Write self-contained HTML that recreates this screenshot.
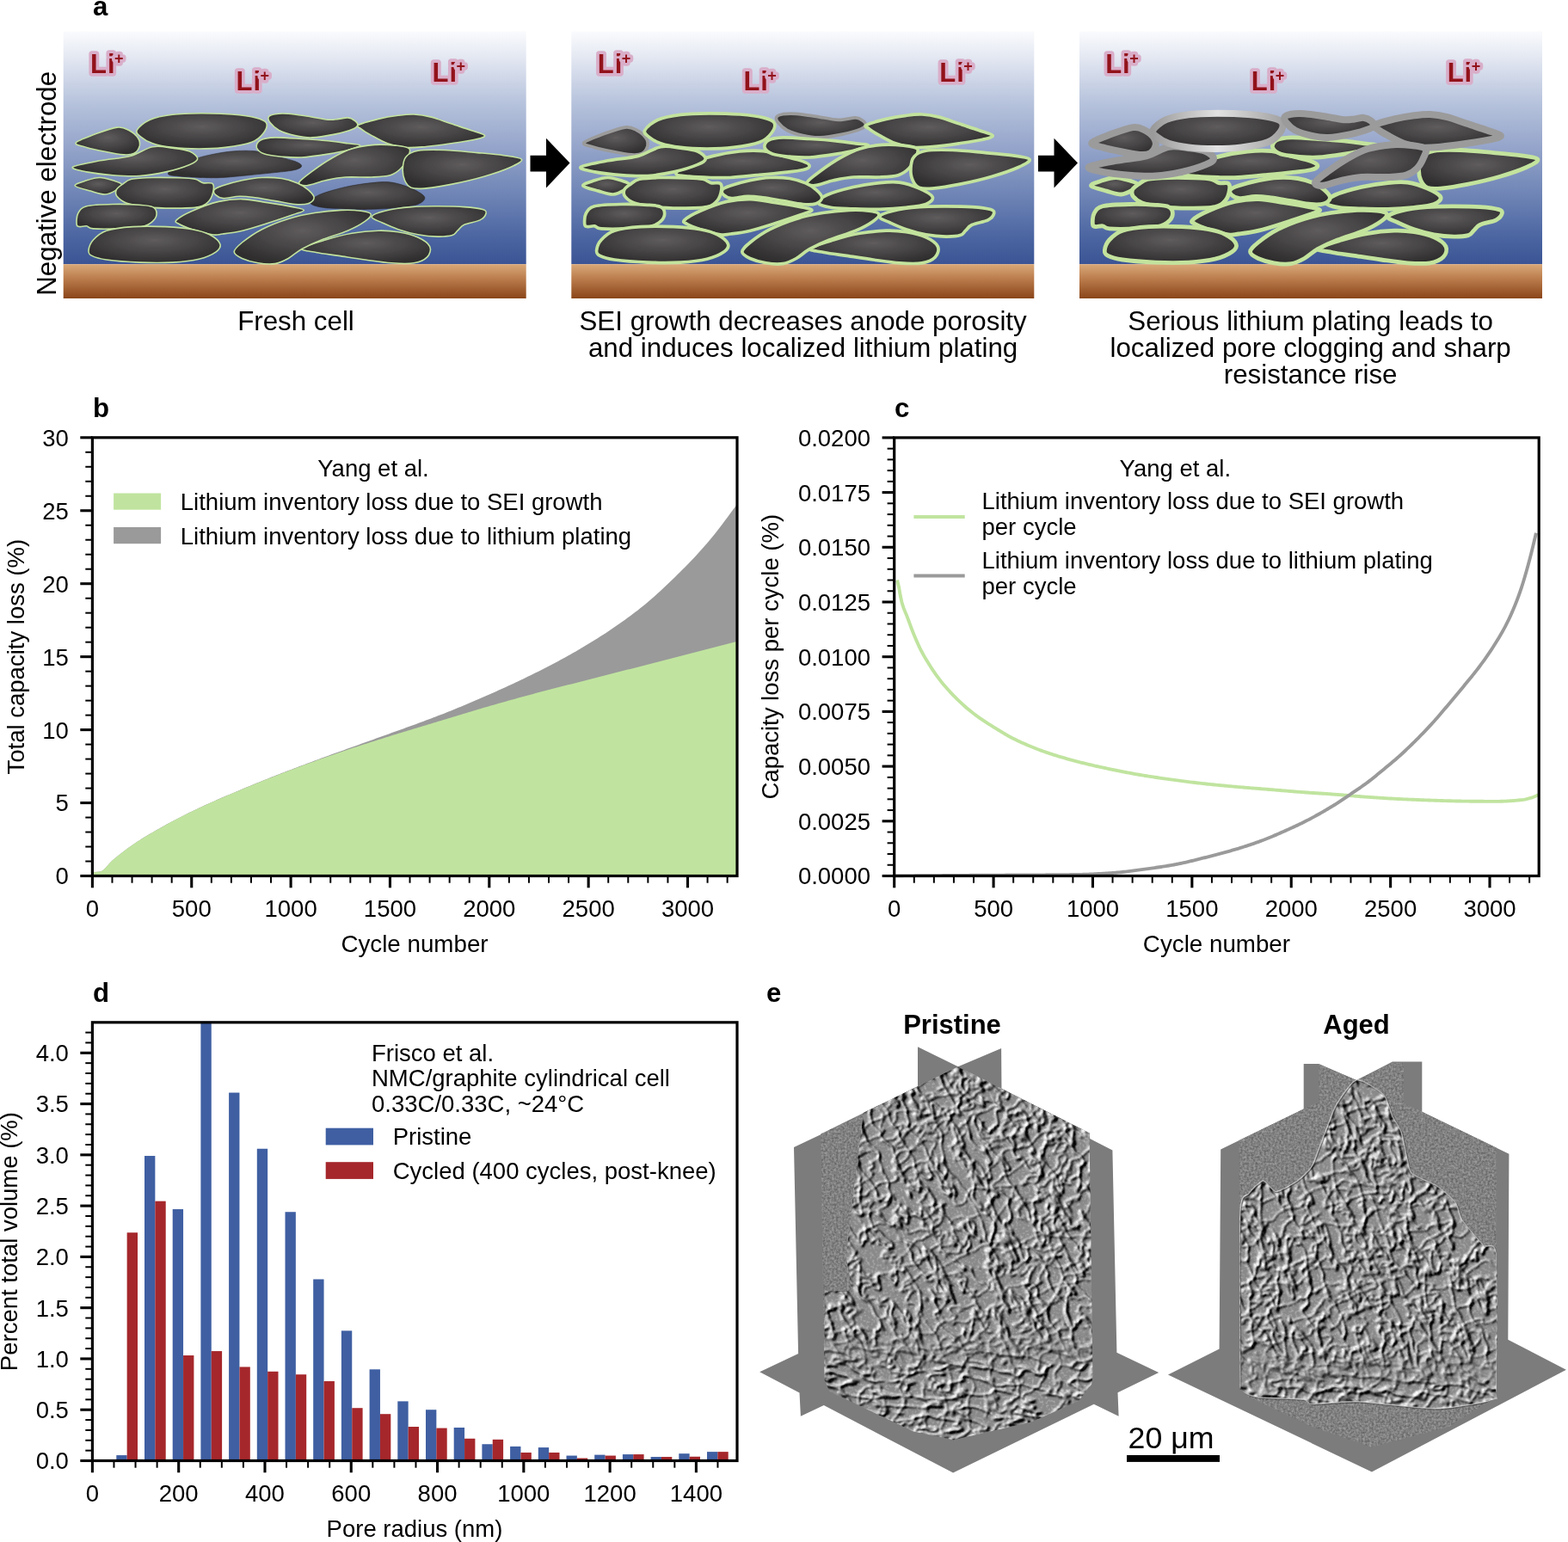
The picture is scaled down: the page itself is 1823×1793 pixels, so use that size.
<!DOCTYPE html>
<html lang="en"><head><meta charset="utf-8"><title>Figure</title>
<style>
html,body{margin:0;padding:0;background:#fff;}
body{width:1823px;height:1793px;overflow:hidden;}
svg{display:block;font-family:'Liberation Sans', sans-serif;}
text{white-space:pre;}
</style></head><body>
<svg width="1823" height="1793" viewBox="0 0 1823 1793">
<defs>
<linearGradient id="gblue" x1="0" y1="0" x2="0" y2="1">
<stop offset="0" stop-color="#fafbfd"/>
<stop offset="0.1" stop-color="#e6eaf3"/>
<stop offset="0.3" stop-color="#b8c4dd"/>
<stop offset="0.5" stop-color="#94a4ca"/>
<stop offset="0.7" stop-color="#6f85b6"/>
<stop offset="0.88" stop-color="#4c66a2"/>
<stop offset="1" stop-color="#3b5494"/>
</linearGradient>
<linearGradient id="gcu" x1="0" y1="0" x2="0" y2="1">
<stop offset="0" stop-color="#d9a878"/>
<stop offset="0.45" stop-color="#b97a4a"/>
<stop offset="1" stop-color="#8a4518"/>
</linearGradient>
<radialGradient id="gpart" cx="0.5" cy="0.38" r="0.62">
<stop offset="0" stop-color="#5f5c5d"/>
<stop offset="0.6" stop-color="#434142"/>
<stop offset="1" stop-color="#2f2d2e"/>
</radialGradient>
<linearGradient id="gsilver" x1="0" y1="0" x2="1" y2="0">
<stop offset="0" stop-color="#9a9a9a"/>
<stop offset="0.5" stop-color="#e2e2e2"/>
<stop offset="1" stop-color="#a2a2a2"/>
</linearGradient>
<filter id="soft" x="-5%" y="-5%" width="110%" height="110%"><feGaussianBlur stdDeviation="0.45"/></filter>
<filter id="glow" x="-30%" y="-30%" width="160%" height="160%"><feGaussianBlur stdDeviation="0.7"/></filter>
<path id="p1" d="M88.1,166.1C89.4,163.6 100.4,159.8 108.4,156.8C116.4,153.9 129.1,149.0 136.0,148.1C143.0,147.2 145.8,149.4 149.9,151.5C154.0,153.6 158.6,157.6 160.6,160.7C162.7,163.8 162.9,167.0 162.2,169.9C161.4,172.8 159.1,176.7 156.0,178.3C152.9,180.0 149.6,180.3 143.7,179.9C137.8,179.5 127.9,177.5 120.7,176.0C113.5,174.6 106.1,173.1 100.7,171.4C95.3,169.8 86.8,168.5 88.1,166.1Z"/>
<path id="p2" d="M159.1,151.5C160.9,148.1 167.5,142.2 174.4,139.2C181.4,136.2 190.6,134.6 200.6,133.3C210.5,132.1 222.8,131.9 234.3,131.8C245.9,131.8 259.2,132.2 269.7,133.0C280.2,133.9 290.7,135.2 297.3,136.9C304.0,138.5 308.1,140.1 309.6,143.0C311.1,146.0 309.3,150.8 306.5,154.5C303.7,158.3 300.1,162.5 292.7,165.3C285.3,168.1 272.2,170.2 262.0,171.4C251.8,172.7 241.5,173.0 231.3,173.0C221.0,173.0 209.5,172.5 200.6,171.4C191.6,170.4 183.7,168.9 177.5,166.8C171.4,164.8 166.8,161.7 163.7,159.1C160.6,156.6 157.3,154.8 159.1,151.5Z"/>
<path id="p3" d="M312.2,136.1C313.1,134.4 316.0,133.4 319.8,132.7C323.7,132.1 328.8,131.8 335.2,132.3C341.6,132.7 350.6,134.2 358.2,135.3C365.9,136.5 375.4,138.7 381.3,139.2C387.2,139.7 389.7,138.8 393.6,138.4C397.4,138.0 401.2,136.6 404.3,136.9C407.4,137.1 410.1,138.5 412.0,140.0C413.9,141.4 416.1,143.7 415.8,145.3C415.6,147.0 414.9,148.1 410.5,149.9C406.0,151.7 396.9,154.4 389.0,156.1C381.0,157.7 370.5,159.7 362.8,159.9C355.2,160.2 349.3,159.0 342.9,157.6C336.5,156.2 329.2,153.9 324.4,151.5C319.7,149.0 316.5,145.6 314.5,143.0C312.4,140.5 311.3,137.8 312.2,136.1Z"/>
<path id="p4" d="M416.8,145.3C420.1,143.4 432.2,140.3 439.8,138.4C447.5,136.6 456.0,135.2 462.9,134.3C469.8,133.4 474.9,132.7 481.3,133.0C487.7,133.3 494.1,134.3 501.3,136.1C508.4,137.9 516.6,141.2 524.3,143.8C532.0,146.4 540.8,149.2 547.4,151.5C553.9,153.8 562.7,155.8 563.5,157.6C564.2,159.4 558.5,160.7 552.0,162.2C545.4,163.8 534.0,165.4 524.3,166.8C514.6,168.2 502.6,169.9 493.6,170.7C484.6,171.4 477.7,172.1 470.6,171.4C463.4,170.8 457.0,169.1 450.6,166.8C444.2,164.5 437.3,160.4 432.2,157.6C427.0,154.8 422.4,152.0 419.9,149.9C417.3,147.9 413.5,147.2 416.8,145.3Z"/>
<path id="p5" d="M84.6,194.2C87.2,192.0 104.9,188.9 116.1,186.8C127.2,184.7 141.2,184.1 151.4,181.4C161.6,178.7 169.3,172.2 177.5,170.7C185.7,169.1 193.4,171.3 200.6,172.2C207.7,173.1 215.7,174.0 220.5,176.0C225.4,178.1 229.7,181.9 229.7,184.5C229.7,187.1 226.7,188.8 220.5,191.4C214.4,194.0 202.6,197.7 192.9,199.9C183.1,202.0 172.4,203.8 162.2,204.5C151.9,205.1 141.7,204.5 131.4,203.7C121.2,202.9 108.5,201.4 100.7,199.9C92.9,198.3 82.0,196.3 84.6,194.2Z"/>
<path id="p6" d="M195.4,202.2C194.9,199.9 200.5,194.9 207.7,191.4C214.9,187.9 228.2,184.0 238.4,181.4C248.7,178.9 259.4,177.0 269.1,176.0C278.9,175.1 288.3,174.8 296.8,175.7C305.2,176.6 312.2,179.4 319.8,181.4C327.5,183.4 337.8,185.6 342.9,187.6C348.0,189.5 350.6,191.3 350.6,192.9C350.6,194.6 348.0,196.3 342.9,197.5C337.8,198.8 328.8,199.6 319.8,200.6C310.9,201.6 299.4,202.7 289.1,203.7C278.9,204.7 267.4,206.0 258.4,206.5C249.4,206.9 243.3,206.7 235.4,206.5C227.4,206.3 217.4,205.9 210.8,205.2C204.1,204.5 195.9,204.5 195.4,202.2Z"/>
<path id="p7" d="M298.3,171.4C297.6,168.7 299.4,164.9 302.9,163.0C306.5,161.1 311.9,160.2 319.8,159.9C327.8,159.7 340.3,160.8 350.6,161.5C360.8,162.1 372.3,162.9 381.3,163.8C390.2,164.7 398.0,165.9 404.3,166.8C410.6,167.7 418.9,167.9 418.9,169.1C418.9,170.4 410.6,172.8 404.3,174.5C398.0,176.2 390.2,177.7 381.3,179.1C372.3,180.5 359.5,182.4 350.6,183.0C341.6,183.5 334.7,182.8 327.5,182.2C320.3,181.5 312.4,180.9 307.5,179.1C302.7,177.3 299.1,174.1 298.3,171.4Z"/>
<path id="p8" d="M347.7,212.1C348.7,209.4 356.6,203.8 363.0,199.1C369.4,194.3 378.4,188.1 386.1,183.7C393.8,179.4 400.9,175.5 409.1,173.0C417.3,170.4 426.8,169.0 435.2,168.4C443.7,167.7 453.0,168.4 459.8,169.1C466.6,169.9 473.6,170.5 475.9,173.0C478.2,175.4 475.3,179.9 473.6,183.7C472.0,187.6 469.3,192.7 465.9,196.0C462.6,199.3 459.3,202.0 453.7,203.7C448.0,205.4 440.9,205.6 432.2,206.0C423.5,206.4 410.4,205.4 401.4,206.0C392.5,206.6 385.8,208.2 378.4,209.8C371.0,211.4 362.0,215.3 356.9,215.7C351.8,216.1 346.7,214.9 347.7,212.1Z"/>
<path id="p9" d="M468.3,196.0C468.5,191.4 469.1,185.6 472.1,182.2C475.0,178.7 478.5,176.6 485.9,175.3C493.3,174.0 505.1,174.1 516.6,174.5C528.2,174.9 543.5,176.6 555.0,177.6C566.5,178.6 577.2,179.4 585.7,180.7C594.3,181.9 605.2,183.0 606.5,185.3C607.8,187.6 600.7,191.1 593.4,194.5C586.1,197.8 574.2,201.9 562.7,205.2C551.2,208.6 535.8,212.1 524.3,214.4C512.8,216.7 501.3,218.4 493.6,219.1C485.9,219.7 482.1,219.8 478.2,218.3C474.4,216.7 472.2,213.5 470.6,209.8C468.9,206.1 468.0,200.6 468.3,196.0Z"/>
<path id="p10" d="M87.2,216.0C86.4,213.9 95.9,211.4 100.7,209.8C105.5,208.2 111.0,206.5 116.1,206.5C121.2,206.5 127.2,208.5 131.4,209.8C135.7,211.2 140.9,212.5 141.4,214.4C141.9,216.4 137.7,219.4 134.5,221.4C131.3,223.3 127.1,225.8 122.2,226.0C117.4,226.1 111.2,223.8 105.3,222.1C99.5,220.5 88.0,218.0 87.2,216.0Z"/>
<path id="p11" d="M142.2,214.4C145.1,212.4 147.1,209.6 152.9,208.3C158.8,207.0 168.3,206.7 177.5,206.5C186.7,206.2 200.0,206.5 208.2,206.8C216.4,207.1 222.1,207.3 226.7,208.3C231.3,209.3 232.6,211.8 235.9,212.6C239.2,213.4 244.6,211.9 246.6,213.2C248.7,214.5 248.7,217.3 248.2,220.6C247.7,223.9 246.4,229.5 243.6,232.9C240.7,236.2 238.4,239.0 231.3,240.6C224.1,242.1 210.8,242.1 200.6,242.1C190.3,242.1 178.8,241.6 169.8,240.6C160.9,239.5 152.4,238.0 146.8,235.9C141.2,233.9 138.0,230.8 136.0,228.3C134.1,225.7 134.3,222.9 135.3,220.6C136.3,218.3 139.2,216.5 142.2,214.4Z"/>
<path id="p12" d="M249.2,220.6C250.5,218.8 253.0,217.8 258.4,216.0C263.8,214.2 273.8,211.4 281.4,209.8C289.1,208.2 296.8,206.8 304.5,206.5C312.2,206.1 320.6,206.5 327.5,207.5C334.4,208.6 340.8,210.7 345.9,212.9C351.1,215.1 355.0,217.8 358.2,220.6C361.4,223.4 365.1,227.1 365.1,229.8C365.1,232.5 361.9,235.4 358.2,236.7C354.5,238.0 349.3,238.0 342.9,237.5C336.5,237.0 327.5,234.9 319.8,233.6C312.2,232.4 303.7,230.7 296.8,229.8C289.9,228.9 284.5,228.1 278.4,228.3C272.2,228.4 264.5,230.8 259.9,230.6C255.3,230.3 252.5,228.4 250.7,226.7C248.9,225.1 247.9,222.4 249.2,220.6Z"/>
<path id="p13" d="M360.7,235.9C360.0,233.5 363.9,229.8 370.7,226.7C377.5,223.7 391.2,219.9 401.4,217.5C411.7,215.2 423.2,213.5 432.2,212.6C441.1,211.7 447.5,211.1 455.2,212.1C462.9,213.2 471.8,216.2 478.2,219.1C484.6,221.9 492.3,226.0 493.6,229.0C494.9,232.1 491.0,235.4 485.9,237.5C480.8,239.5 471.8,240.3 462.9,241.3C453.9,242.3 442.4,243.1 432.2,243.3C421.9,243.6 410.9,243.2 401.4,242.9C392.0,242.5 382.1,242.5 375.3,241.3C368.5,240.2 361.5,238.4 360.7,235.9Z"/>
<path id="p14" d="M89.2,261.3C88.8,258.7 88.8,251.8 90.7,248.2C92.7,244.6 93.9,241.6 100.7,239.8C107.5,238.0 121.2,237.7 131.4,237.5C141.7,237.2 154.5,237.7 162.2,238.3C169.8,238.8 174.2,238.9 177.5,240.6C180.8,242.2 182.1,245.4 182.1,248.2C182.1,251.0 180.3,254.9 177.5,257.4C174.7,260.0 171.6,262.2 165.2,263.6C158.8,265.0 148.6,265.5 139.1,265.9C129.6,266.3 114.8,266.4 108.4,265.9C102.0,265.4 103.3,263.2 100.7,262.8C98.2,262.4 95.0,263.8 93.0,263.6C91.1,263.3 89.6,263.8 89.2,261.3Z"/>
<path id="p15" d="M205.2,255.9C207.7,253.4 215.4,248.7 223.6,245.2C231.8,241.6 244.6,236.7 254.3,234.4C264.0,232.2 272.5,231.4 282.0,231.6C291.4,231.9 301.4,234.2 311.1,235.6C320.9,237.1 333.3,239.1 340.3,240.6C347.4,242.0 353.4,242.9 353.4,244.4C353.4,245.9 347.1,247.3 340.3,249.8C333.5,252.2 322.4,255.9 312.7,259.0C302.9,262.1 290.9,266.0 282.0,268.2C273.0,270.4 264.8,271.3 258.9,272.0C253.0,272.8 252.5,273.7 246.6,272.8C240.7,271.9 230.0,268.7 223.6,266.7C217.2,264.6 211.3,262.3 208.2,260.5C205.2,258.7 202.6,258.5 205.2,255.9Z"/>
<path id="p16" d="M432.2,252.1C432.7,249.8 439.8,247.1 447.5,245.2C455.2,243.2 468.0,241.4 478.2,240.6C488.5,239.7 498.7,239.8 509.0,239.8C519.2,239.8 531.0,239.9 539.7,240.6C548.4,241.2 557.0,242.3 561.2,243.6C565.4,244.9 565.5,246.2 565.0,248.2C564.5,250.3 562.3,253.7 558.1,255.9C553.9,258.1 544.0,259.2 539.7,261.3C535.3,263.3 534.3,266.2 532.0,268.2C529.7,270.2 529.7,272.4 525.8,273.6C522.0,274.7 515.6,275.2 509.0,275.1C502.3,275.0 493.6,274.2 485.9,272.8C478.2,271.4 469.8,269.0 462.9,266.7C456.0,264.4 449.6,261.4 444.4,259.0C439.3,256.6 431.6,254.4 432.2,252.1Z"/>
<path id="p17" d="M103.0,291.2C103.3,288.2 104.9,282.8 108.4,279.0C111.9,275.1 116.1,270.8 123.8,268.2C131.4,265.6 143.0,264.4 154.5,263.6C166.0,262.8 181.4,263.1 192.9,263.6C204.4,264.1 215.1,265.1 223.6,266.7C232.0,268.2 238.2,270.0 243.6,272.8C248.9,275.6 254.6,280.2 255.8,283.6C257.1,286.9 255.3,289.8 251.2,292.8C247.1,295.7 239.7,299.2 231.3,301.2C222.8,303.3 212.1,304.4 200.6,305.1C189.0,305.7 175.0,305.6 162.2,305.1C149.4,304.6 133.0,303.3 123.8,302.0C114.5,300.7 110.3,299.2 106.9,297.4C103.4,295.6 102.8,294.3 103.0,291.2Z"/>
<path id="p18" d="M272.2,292.8C272.2,289.7 276.1,286.4 281.4,282.0C286.8,277.7 295.5,271.3 304.5,266.7C313.4,262.1 325.0,257.6 335.2,254.4C345.4,251.2 355.7,249.1 365.9,247.5C376.2,245.8 387.7,244.8 396.6,244.4C405.6,244.0 413.9,244.4 419.7,245.2C425.4,245.9 430.4,247.0 431.2,249.0C432.0,251.0 428.8,254.2 424.3,257.4C419.8,260.6 412.8,264.6 404.3,268.2C395.9,271.8 382.6,275.4 373.6,279.0C364.6,282.5 357.0,286.1 350.6,289.7C344.2,293.3 340.3,297.6 335.2,300.5C330.1,303.3 325.7,305.7 319.8,306.6C313.9,307.5 306.3,306.9 299.9,305.8C293.5,304.8 286.0,302.6 281.4,300.5C276.8,298.3 272.2,295.8 272.2,292.8Z"/>
<path id="p19" d="M350.8,288.9C352.5,286.5 368.7,281.9 378.4,279.0C388.1,276.0 398.9,273.1 409.1,271.3C419.4,269.5 430.9,268.5 439.8,268.2C448.8,267.9 455.2,268.5 462.9,269.7C470.6,271.0 479.8,273.1 485.9,275.9C492.1,278.7 497.9,282.8 499.7,286.6C501.5,290.5 499.7,295.7 496.7,298.9C493.6,302.1 488.2,304.7 481.3,305.8C474.4,307.0 464.7,306.5 455.2,305.8C445.7,305.2 434.7,303.4 424.5,302.0C414.2,300.6 403.2,298.8 393.8,297.4C384.3,296.0 374.8,295.0 367.6,293.5C360.5,292.1 349.0,291.4 350.8,288.9Z"/>
<filter id="tex" x="0" y="0" width="100%" height="100%" color-interpolation-filters="sRGB"><feTurbulence type="fractalNoise" baseFrequency="0.02 0.055" numOctaves="3" seed="7" result="n"/><feComponentTransfer in="n" result="h1"><feFuncA type="table" tableValues="0 0 0 0 0 0 0 0 0 0 1 0 0 0 0 0 0 0 0 0 0"/></feComponentTransfer><feTurbulence type="fractalNoise" baseFrequency="0.05 0.03" numOctaves="3" seed="31" result="m"/><feComponentTransfer in="m" result="h2"><feFuncA type="table" tableValues="0 0 0 0 0 0 0 0 0 0 1 0 0 0 0 0 0 0 0 0 0"/></feComponentTransfer><feComposite in="h1" in2="h2" operator="arithmetic" k1="0" k2="1" k3="0.6" k4="0" result="h"/><feGaussianBlur in="h" stdDeviation="0.8" result="hb"/><feDiffuseLighting in="hb" surfaceScale="2" diffuseConstant="1" lighting-color="#fff" result="l"><feDistantLight azimuth="150" elevation="32.5"/></feDiffuseLighting><feTurbulence type="fractalNoise" baseFrequency="0.35" numOctaves="2" seed="11" result="g"/><feColorMatrix in="g" type="matrix" values="0.5 0 0 0 -0.25  0.5 0 0 0 -0.25  0.5 0 0 0 -0.25  0 0 0 0 1" result="g2"/><feComposite in="l" in2="g2" operator="arithmetic" k1="0" k2="1" k3="1" k4="0" result="c"/><feGaussianBlur in="c" stdDeviation="0.45"/></filter>
<filter id="tex2" x="0" y="0" width="100%" height="100%" color-interpolation-filters="sRGB"><feTurbulence type="fractalNoise" baseFrequency="0.018 0.06" numOctaves="3" seed="23" result="n"/><feComponentTransfer in="n" result="h1"><feFuncA type="table" tableValues="0 0 0 0 0 0 0 0 0 0 1 0 0 0 0 0 0 0 0 0 0"/></feComponentTransfer><feTurbulence type="fractalNoise" baseFrequency="0.04 0.03" numOctaves="3" seed="41" result="m"/><feComponentTransfer in="m" result="h2"><feFuncA type="table" tableValues="0 0 0 0 0 0 0 0 0 0 1 0 0 0 0 0 0 0 0 0 0"/></feComponentTransfer><feComposite in="h1" in2="h2" operator="arithmetic" k1="0" k2="1" k3="0.6" k4="0" result="h"/><feGaussianBlur in="h" stdDeviation="0.8" result="hb"/><feDiffuseLighting in="hb" surfaceScale="2" diffuseConstant="1" lighting-color="#fff" result="l"><feDistantLight azimuth="215" elevation="32.5"/></feDiffuseLighting><feTurbulence type="fractalNoise" baseFrequency="0.35" numOctaves="2" seed="5" result="g"/><feColorMatrix in="g" type="matrix" values="0.5 0 0 0 -0.25  0.5 0 0 0 -0.25  0.5 0 0 0 -0.25  0 0 0 0 1" result="g2"/><feComposite in="l" in2="g2" operator="arithmetic" k1="0" k2="1" k3="1" k4="0" result="c"/><feGaussianBlur in="c" stdDeviation="0.45"/></filter>
<filter id="grain" x="0" y="0" width="100%" height="100%" color-interpolation-filters="sRGB"><feTurbulence type="fractalNoise" baseFrequency="0.4" numOctaves="2" seed="17" result="n"/><feColorMatrix in="n" type="matrix" values="0.36 0 0 0 0.325  0.36 0 0 0 0.325  0.36 0 0 0 0.325  0 0 0 0 1" result="c"/><feGaussianBlur in="c" stdDeviation="0.4"/></filter>
<clipPath id="cip"><polygon points="954.30,1318.50 1113.90,1240.30 1266.60,1317.40 1270.40,1600.00 1269.10,1609.70 1254.00,1628.90 1199.10,1653.60 1108.60,1674.20 1062.00,1664.60 964.60,1617.90 958.30,1604.20"/></clipPath>
<clipPath id="csp"><polygon points="1003.90,1294.00 1113.90,1240.30 1266.60,1317.40 1270.40,1600.00 1269.10,1609.70 1254.00,1628.90 1199.10,1653.60 1108.60,1674.20 1062.00,1664.60 964.60,1617.90 958.30,1604.20 958.70,1501.40 990.50,1501.40 983.80,1461.30 993.80,1374.30"/></clipPath>
<linearGradient id="mgup" gradientUnits="userSpaceOnUse" x1="0" y1="1548.1" x2="0" y2="1592.1"><stop offset="0" stop-color="#fff"/><stop offset="1" stop-color="#000"/></linearGradient>
<mask id="mup" maskUnits="userSpaceOnUse" x="958.3" y="1240.3" width="312.1" height="433.9"><rect x="958.3" y="1240.3" width="312.1" height="433.9" fill="url(#mgup)"/></mask>
<clipPath id="cia"><polygon points="1440.60,1326.00 1533.40,1281.00 1533.40,1238.00 1577.20,1255.90 1618.90,1236.00 1632.00,1236.00 1632.00,1282.50 1739.80,1334.60 1739.80,1618.00 1735.00,1627.00 1684.50,1659.00 1594.40,1682.80 1525.50,1659.00 1451.30,1624.50 1441.50,1613.90"/></clipPath>
<clipPath id="csa"><path d="M1577.2,1255.9C1583.5,1254.7 1603.6,1268.1 1608.5,1273.0C1613.4,1277.9 1616.5,1292.9 1618.9,1298.0C1621.3,1303.1 1627.4,1311.1 1629.3,1316.7C1631.2,1322.3 1634.1,1340.3 1635.6,1345.9C1637.1,1351.5 1637.7,1360.8 1641.8,1364.7C1645.9,1368.6 1665.2,1375.4 1671.0,1379.3C1676.8,1383.2 1688.5,1393.4 1691.9,1398.0C1695.3,1402.6 1696.4,1413.1 1700.2,1418.9C1704.0,1424.7 1720.0,1443.1 1724.6,1447.9C1729.2,1452.7 1737.9,1440.5 1739.7,1460.0C1741.5,1479.5 1740.0,1595.5 1739.7,1615.0C1739.4,1634.5 1745.5,1624.5 1737.5,1627.2C1729.5,1629.9 1689.8,1637.5 1671.2,1637.8C1652.7,1638.1 1595.5,1630.4 1578.5,1629.8C1561.5,1629.2 1532.9,1632.8 1525.5,1632.5C1518.1,1632.2 1522.3,1628.1 1514.9,1627.2C1507.5,1626.3 1470.3,1625.7 1461.9,1624.5C1453.5,1623.3 1445.6,1619.5 1443.3,1616.6C1441.0,1613.7 1442.0,1624.1 1441.8,1600.0C1441.6,1575.9 1440.6,1434.8 1441.8,1410.0C1443.0,1385.2 1448.9,1391.9 1452.1,1387.6C1455.2,1383.3 1465.1,1373.2 1468.8,1373.0C1472.5,1372.8 1478.8,1385.5 1483.4,1385.5C1488.0,1385.5 1503.5,1376.4 1508.4,1373.0C1513.3,1369.6 1522.2,1360.7 1525.1,1356.3C1528.0,1351.9 1531.2,1341.1 1533.4,1335.5C1535.6,1329.9 1541.4,1314.5 1543.8,1308.4C1546.2,1302.3 1550.4,1289.5 1554.3,1283.4C1558.2,1277.3 1570.9,1257.1 1577.2,1255.9Z"/></clipPath>
<linearGradient id="mgua" gradientUnits="userSpaceOnUse" x1="0" y1="1570.0" x2="0" y2="1614.0"><stop offset="0" stop-color="#fff"/><stop offset="1" stop-color="#000"/></linearGradient>
<mask id="mua" maskUnits="userSpaceOnUse" x="1441.8" y="1255.9" width="297.9" height="381.9"><rect x="1441.8" y="1255.9" width="297.9" height="381.9" fill="url(#mgua)"/></mask>
</defs>
<g>
<rect x="73.7" y="36.5" width="538.0" height="270.7" fill="url(#gblue)"/>
<rect x="73.7" y="307.2" width="538.0" height="39.8" fill="url(#gcu)"/>
<g transform="translate(0.0 0)" filter="url(#soft)" stroke-linejoin="round">
<use href="#p6" fill="url(#gpart)" stroke="#2a2829" stroke-width="0.6"/>
<use href="#p13" fill="url(#gpart)" stroke="#2a2829" stroke-width="0.6"/>
<use href="#p1" fill="url(#gpart)" stroke="#c3e39d" stroke-width="1.6"/>
<use href="#p2" fill="url(#gpart)" stroke="#c3e39d" stroke-width="1.6"/>
<use href="#p3" fill="url(#gpart)" stroke="#c3e39d" stroke-width="1.6"/>
<use href="#p4" fill="url(#gpart)" stroke="#c3e39d" stroke-width="1.6"/>
<use href="#p7" fill="url(#gpart)" stroke="#c3e39d" stroke-width="1.6"/>
<use href="#p5" fill="url(#gpart)" stroke="#c3e39d" stroke-width="1.6"/>
<use href="#p8" fill="url(#gpart)" stroke="#c3e39d" stroke-width="1.6"/>
<use href="#p9" fill="url(#gpart)" stroke="#c3e39d" stroke-width="1.6"/>
<use href="#p10" fill="url(#gpart)" stroke="#c3e39d" stroke-width="1.6"/>
<use href="#p11" fill="url(#gpart)" stroke="#c3e39d" stroke-width="1.6"/>
<use href="#p12" fill="url(#gpart)" stroke="#c3e39d" stroke-width="1.6"/>
<use href="#p14" fill="url(#gpart)" stroke="#c3e39d" stroke-width="1.6"/>
<use href="#p15" fill="url(#gpart)" stroke="#c3e39d" stroke-width="1.6"/>
<use href="#p16" fill="url(#gpart)" stroke="#c3e39d" stroke-width="1.6"/>
<use href="#p17" fill="url(#gpart)" stroke="#c3e39d" stroke-width="1.6"/>
<use href="#p19" fill="url(#gpart)" stroke="#c3e39d" stroke-width="1.6"/>
<use href="#p18" fill="url(#gpart)" stroke="#c3e39d" stroke-width="1.6"/>
</g>
<text x="105.0" y="85.3" font-size="31" font-weight="bold" letter-spacing="1" fill="#92121a" stroke="#d9aec9" stroke-width="7.4" stroke-linejoin="round" paint-order="stroke">Li<tspan dy="-11.6" dx="-1.6" font-size="18">+</tspan></text>
<text x="274.6" y="105.4" font-size="31" font-weight="bold" letter-spacing="1" fill="#92121a" stroke="#d9aec9" stroke-width="7.4" stroke-linejoin="round" paint-order="stroke">Li<tspan dy="-11.6" dx="-1.6" font-size="18">+</tspan></text>
<text x="502.5" y="95.0" font-size="31" font-weight="bold" letter-spacing="1" fill="#92121a" stroke="#d9aec9" stroke-width="7.4" stroke-linejoin="round" paint-order="stroke">Li<tspan dy="-11.6" dx="-1.6" font-size="18">+</tspan></text>
</g>
<g>
<rect x="664.3" y="36.5" width="538.0" height="270.7" fill="url(#gblue)"/>
<rect x="664.3" y="307.2" width="538.0" height="39.8" fill="url(#gcu)"/>
<g transform="translate(590.6 0)" filter="url(#soft)" stroke-linejoin="round">
<use href="#p6" fill="url(#gpart)" stroke="#c3e39d" stroke-width="3.7"/>
<use href="#p13" fill="url(#gpart)" stroke="#c3e39d" stroke-width="3.7"/>
<use href="#p1" fill="url(#gpart)" stroke="#9b9b9b" stroke-width="3.7"/>
<use href="#p2" fill="url(#gpart)" stroke="#c3e39d" stroke-width="3.7"/>
<use href="#p3" fill="url(#gpart)" stroke="#9b9b9b" stroke-width="3.7"/>
<use href="#p4" fill="url(#gpart)" stroke="#c3e39d" stroke-width="3.7"/>
<use href="#p7" fill="url(#gpart)" stroke="#c3e39d" stroke-width="3.7"/>
<use href="#p5" fill="url(#gpart)" stroke="#c3e39d" stroke-width="3.7"/>
<use href="#p8" fill="url(#gpart)" stroke="#c3e39d" stroke-width="3.7"/>
<use href="#p9" fill="url(#gpart)" stroke="#c3e39d" stroke-width="3.7"/>
<use href="#p10" fill="url(#gpart)" stroke="#c3e39d" stroke-width="3.7"/>
<use href="#p11" fill="url(#gpart)" stroke="#c3e39d" stroke-width="3.7"/>
<use href="#p12" fill="url(#gpart)" stroke="#c3e39d" stroke-width="3.7"/>
<use href="#p14" fill="url(#gpart)" stroke="#c3e39d" stroke-width="3.7"/>
<use href="#p15" fill="url(#gpart)" stroke="#c3e39d" stroke-width="3.7"/>
<use href="#p16" fill="url(#gpart)" stroke="#c3e39d" stroke-width="3.7"/>
<use href="#p17" fill="url(#gpart)" stroke="#c3e39d" stroke-width="3.7"/>
<use href="#p19" fill="url(#gpart)" stroke="#c3e39d" stroke-width="3.7"/>
<use href="#p18" fill="url(#gpart)" stroke="#c3e39d" stroke-width="3.7"/>
</g>
<text x="694.8" y="85.3" font-size="31" font-weight="bold" letter-spacing="1" fill="#92121a" stroke="#d9aec9" stroke-width="7.4" stroke-linejoin="round" paint-order="stroke">Li<tspan dy="-11.6" dx="-1.6" font-size="18">+</tspan></text>
<text x="864.4" y="105.4" font-size="31" font-weight="bold" letter-spacing="1" fill="#92121a" stroke="#d9aec9" stroke-width="7.4" stroke-linejoin="round" paint-order="stroke">Li<tspan dy="-11.6" dx="-1.6" font-size="18">+</tspan></text>
<text x="1092.3" y="95.0" font-size="31" font-weight="bold" letter-spacing="1" fill="#92121a" stroke="#d9aec9" stroke-width="7.4" stroke-linejoin="round" paint-order="stroke">Li<tspan dy="-11.6" dx="-1.6" font-size="18">+</tspan></text>
</g>
<g>
<rect x="1255.0" y="36.5" width="538.0" height="270.7" fill="url(#gblue)"/>
<rect x="1255.0" y="307.2" width="538.0" height="39.8" fill="url(#gcu)"/>
<g transform="translate(1181.3 0)" filter="url(#soft)" stroke-linejoin="round">
<use href="#p6" fill="url(#gpart)" stroke="#c3e39d" stroke-width="4.8"/>
<use href="#p13" fill="url(#gpart)" stroke="#c3e39d" stroke-width="4.8"/>
<use href="#p7" fill="url(#gpart)" stroke="#c3e39d" stroke-width="4.8"/>
<use href="#p9" fill="url(#gpart)" stroke="#c3e39d" stroke-width="4.8"/>
<use href="#p10" fill="url(#gpart)" stroke="#c3e39d" stroke-width="4.8"/>
<use href="#p11" fill="url(#gpart)" stroke="#c3e39d" stroke-width="4.8"/>
<use href="#p12" fill="url(#gpart)" stroke="#c3e39d" stroke-width="4.8"/>
<use href="#p14" fill="url(#gpart)" stroke="#c3e39d" stroke-width="4.8"/>
<use href="#p15" fill="url(#gpart)" stroke="#c3e39d" stroke-width="4.8"/>
<use href="#p16" fill="url(#gpart)" stroke="#c3e39d" stroke-width="4.8"/>
<use href="#p17" fill="url(#gpart)" stroke="#c3e39d" stroke-width="4.8"/>
<use href="#p19" fill="url(#gpart)" stroke="#c3e39d" stroke-width="4.8"/>
<use href="#p18" fill="url(#gpart)" stroke="#c3e39d" stroke-width="4.8"/>
<use href="#p1" fill="url(#gpart)" stroke="#9b9b9b" stroke-width="8.0"/>
<use href="#p5" fill="url(#gpart)" stroke="#9b9b9b" stroke-width="8.0"/>
<use href="#p2" fill="url(#gpart)" stroke="url(#gsilver)" stroke-width="8.0"/>
<use href="#p3" fill="url(#gpart)" stroke="#9b9b9b" stroke-width="8.0"/>
<use href="#p4" fill="url(#gpart)" stroke="#9b9b9b" stroke-width="8.0"/>
<use href="#p8" fill="url(#gpart)" stroke="#9b9b9b" stroke-width="8.0"/>
</g>
<text x="1285.2" y="85.3" font-size="31" font-weight="bold" letter-spacing="1" fill="#92121a" stroke="#d9aec9" stroke-width="7.4" stroke-linejoin="round" paint-order="stroke">Li<tspan dy="-11.6" dx="-1.6" font-size="18">+</tspan></text>
<text x="1454.8" y="105.4" font-size="31" font-weight="bold" letter-spacing="1" fill="#92121a" stroke="#d9aec9" stroke-width="7.4" stroke-linejoin="round" paint-order="stroke">Li<tspan dy="-11.6" dx="-1.6" font-size="18">+</tspan></text>
<text x="1682.7" y="95.0" font-size="31" font-weight="bold" letter-spacing="1" fill="#92121a" stroke="#d9aec9" stroke-width="7.4" stroke-linejoin="round" paint-order="stroke">Li<tspan dy="-11.6" dx="-1.6" font-size="18">+</tspan></text>
</g>
<path d="M616.5,180.8H635.0V160.8L662.5,189.6L635.0,218.4V199.4H616.5Z" fill="#000"/>
<path d="M1207.0,180.8H1225.5V160.8L1253.0,189.6L1225.5,218.4V199.4H1207.0Z" fill="#000"/>
<text x="344.00" y="383.80" font-size="31.3" text-anchor="middle" font-weight="normal" fill="#000">Fresh cell</text>
<text x="933.60" y="383.80" font-size="31.3" text-anchor="middle" font-weight="normal" fill="#000">SEI growth decreases anode porosity</text>
<text x="933.60" y="414.60" font-size="31.3" text-anchor="middle" font-weight="normal" fill="#000">and induces localized lithium plating</text>
<text x="1523.60" y="383.80" font-size="31.3" text-anchor="middle" font-weight="normal" fill="#000">Serious lithium plating leads to</text>
<text x="1523.60" y="414.60" font-size="31.3" text-anchor="middle" font-weight="normal" fill="#000">localized pore clogging and sharp</text>
<text x="1523.60" y="445.60" font-size="31.3" text-anchor="middle" font-weight="normal" fill="#000">resistance rise</text>
<text x="65.00" y="213.30" font-size="31.3" text-anchor="middle" font-weight="normal" fill="#000" transform="rotate(-90 65.00 213.30)">Negative electrode</text>
<text x="108.00" y="17.60" font-size="31.2" text-anchor="start" font-weight="bold" fill="#000">a</text>
<polygon points="107.40,1014.25 110.29,1014.02 113.19,1013.80 116.08,1013.47 118.98,1012.43 121.87,1010.00 124.77,1006.79 127.66,1003.43 130.56,1000.55 133.45,998.13 136.35,995.75 139.24,993.42 142.14,991.15 145.03,988.93 147.93,986.77 150.82,984.68 153.72,982.64 156.61,980.67 159.51,978.76 162.40,976.89 165.30,975.08 168.19,973.30 171.09,971.55 173.98,969.84 176.88,968.15 179.77,966.47 182.67,964.81 185.56,963.17 188.46,961.54 191.35,959.94 194.25,958.35 197.14,956.77 200.04,955.22 202.93,953.68 205.83,952.16 208.72,950.65 211.62,949.17 214.51,947.70 217.41,946.25 220.30,944.82 223.20,943.40 226.09,942.01 228.99,940.63 231.88,939.27 234.77,937.92 237.67,936.59 240.56,935.27 243.46,933.97 246.35,932.67 249.25,931.39 252.14,930.12 255.04,928.86 257.93,927.60 260.83,926.36 263.72,925.12 266.62,923.89 269.51,922.66 272.41,921.43 275.30,920.21 278.20,918.99 281.09,917.78 283.99,916.56 286.88,915.36 289.78,914.16 292.67,912.96 295.57,911.77 298.46,910.59 301.36,909.42 304.25,908.25 307.15,907.08 310.04,905.92 312.94,904.77 315.83,903.62 318.73,902.48 321.62,901.34 324.52,900.21 327.41,899.09 330.31,897.97 333.20,896.86 336.10,895.75 338.99,894.64 341.89,893.54 344.78,892.44 347.68,891.35 350.57,890.25 353.47,889.16 356.36,888.07 359.25,886.99 362.15,885.90 365.04,884.82 367.94,883.75 370.83,882.67 373.73,881.60 376.62,880.53 379.52,879.47 382.41,878.41 385.31,877.36 388.20,876.30 391.10,875.26 393.99,874.21 396.89,873.18 399.78,872.14 402.68,871.10 405.57,870.06 408.47,869.02 411.36,867.98 414.26,866.94 417.15,865.90 420.05,864.86 422.94,863.82 425.84,862.78 428.73,861.73 431.63,860.69 434.52,859.65 437.42,858.61 440.31,857.57 443.21,856.53 446.10,855.49 449.00,854.45 451.89,853.41 454.79,852.37 457.68,851.33 460.58,850.29 463.47,849.24 466.37,848.20 469.26,847.16 472.16,846.11 475.05,845.06 477.95,844.01 480.84,842.95 483.73,841.89 486.63,840.82 489.52,839.76 492.42,838.68 495.31,837.60 498.21,836.52 501.10,835.43 504.00,834.34 506.89,833.23 509.79,832.12 512.68,831.01 515.58,829.88 518.47,828.73 521.37,827.58 524.26,826.41 527.16,825.23 530.05,824.04 532.95,822.84 535.84,821.63 538.74,820.41 541.63,819.19 544.53,817.96 547.42,816.72 550.32,815.48 553.21,814.24 556.11,812.99 559.00,811.73 561.90,810.48 564.79,809.22 567.69,807.97 570.58,806.71 573.48,805.44 576.37,804.16 579.27,802.87 582.16,801.57 585.06,800.26 587.95,798.93 590.85,797.60 593.74,796.26 596.64,794.91 599.53,793.55 602.43,792.18 605.32,790.80 608.21,789.41 611.11,788.02 614.00,786.61 616.90,785.20 619.79,783.78 622.69,782.35 625.58,780.91 628.48,779.47 631.37,778.01 634.27,776.53 637.16,775.04 640.06,773.54 642.95,772.02 645.85,770.48 648.74,768.93 651.64,767.36 654.53,765.78 657.43,764.18 660.32,762.57 663.22,760.94 666.11,759.30 669.01,757.64 671.90,755.96 674.80,754.27 677.69,752.57 680.59,750.84 683.48,749.10 686.38,747.35 689.27,745.57 692.17,743.77 695.06,741.96 697.96,740.12 700.85,738.26 703.75,736.38 706.64,734.48 709.54,732.55 712.43,730.60 715.33,728.62 718.22,726.62 721.12,724.60 724.01,722.54 726.91,720.46 729.80,718.35 732.69,716.21 735.59,714.05 738.48,711.85 741.38,709.63 744.27,707.36 747.17,705.04 750.06,702.67 752.96,700.25 755.85,697.79 758.75,695.27 761.64,692.72 764.54,690.12 767.43,687.48 770.33,684.81 773.22,682.10 776.12,679.36 779.01,676.59 781.91,673.79 784.80,670.96 787.70,668.11 790.59,665.24 793.49,662.34 796.38,659.43 799.28,656.50 802.17,653.54 805.07,650.51 807.96,647.43 810.86,644.29 813.75,641.10 816.65,637.85 819.54,634.54 822.44,631.18 825.33,627.77 828.23,624.31 831.12,620.76 834.02,617.09 836.91,613.34 839.81,609.51 842.70,605.62 845.60,601.71 848.49,597.78 851.39,593.85 854.28,589.96 857.18,586.10 857.00,1018.50 107.40,1018.50" fill="#9a9a9a"/>
<polygon points="107.40,1014.25 110.29,1014.03 113.19,1013.81 116.08,1013.49 118.98,1012.45 121.87,1010.02 124.77,1006.81 127.66,1003.46 130.56,1000.59 133.45,998.16 136.35,995.78 139.24,993.46 142.14,991.19 145.03,988.98 147.93,986.82 150.82,984.73 153.72,982.70 156.61,980.73 159.51,978.82 162.40,976.96 165.30,975.14 168.19,973.37 171.09,971.63 173.98,969.91 176.88,968.22 179.77,966.55 182.67,964.89 185.56,963.26 188.46,961.63 191.35,960.03 194.25,958.44 197.14,956.87 200.04,955.32 202.93,953.78 205.83,952.26 208.72,950.76 211.62,949.28 214.51,947.82 217.41,946.37 220.30,944.94 223.20,943.53 226.09,942.14 228.99,940.76 231.88,939.40 234.77,938.06 237.67,936.73 240.56,935.41 243.46,934.11 246.35,932.82 249.25,931.55 252.14,930.28 255.04,929.02 257.93,927.77 260.83,926.53 263.72,925.29 266.62,924.06 269.51,922.84 272.41,921.62 275.30,920.41 278.20,919.19 281.09,917.98 283.99,916.77 286.88,915.57 289.78,914.38 292.67,913.19 295.57,912.01 298.46,910.83 301.36,909.66 304.25,908.50 307.15,907.34 310.04,906.19 312.94,905.04 315.83,903.90 318.73,902.76 321.62,901.64 324.52,900.51 327.41,899.40 330.31,898.29 333.20,897.18 336.10,896.08 338.99,894.99 341.89,893.90 344.78,892.81 347.68,891.74 350.57,890.66 353.47,889.59 356.36,888.53 359.25,887.47 362.15,886.42 365.04,885.38 367.94,884.33 370.83,883.30 373.73,882.27 376.62,881.24 379.52,880.22 382.41,879.21 385.31,878.20 388.20,877.19 391.10,876.20 393.99,875.20 396.89,874.22 399.78,873.23 402.68,872.26 405.57,871.29 408.47,870.33 411.36,869.37 414.26,868.42 417.15,867.47 420.05,866.53 422.94,865.59 425.84,864.66 428.73,863.73 431.63,862.80 434.52,861.88 437.42,860.96 440.31,860.04 443.21,859.13 446.10,858.21 449.00,857.30 451.89,856.39 454.79,855.49 457.68,854.59 460.58,853.69 463.47,852.79 466.37,851.91 469.26,851.02 472.16,850.14 475.05,849.26 477.95,848.38 480.84,847.51 483.73,846.64 486.63,845.77 489.52,844.90 492.42,844.03 495.31,843.16 498.21,842.29 501.10,841.42 504.00,840.55 506.89,839.68 509.79,838.81 512.68,837.93 515.58,837.06 518.47,836.18 521.37,835.30 524.26,834.42 527.16,833.54 530.05,832.65 532.95,831.77 535.84,830.89 538.74,830.01 541.63,829.14 544.53,828.26 547.42,827.39 550.32,826.52 553.21,825.65 556.11,824.79 559.00,823.94 561.90,823.08 564.79,822.24 567.69,821.40 570.58,820.56 573.48,819.73 576.37,818.91 579.27,818.08 582.16,817.26 585.06,816.44 587.95,815.63 590.85,814.82 593.74,814.01 596.64,813.21 599.53,812.41 602.43,811.61 605.32,810.82 608.21,810.03 611.11,809.24 614.00,808.45 616.90,807.67 619.79,806.89 622.69,806.12 625.58,805.34 628.48,804.57 631.37,803.81 634.27,803.05 637.16,802.30 640.06,801.55 642.95,800.80 645.85,800.06 648.74,799.32 651.64,798.58 654.53,797.84 657.43,797.11 660.32,796.37 663.22,795.64 666.11,794.91 669.01,794.18 671.90,793.44 674.80,792.71 677.69,791.97 680.59,791.24 683.48,790.50 686.38,789.75 689.27,789.01 692.17,788.27 695.06,787.53 697.96,786.79 700.85,786.04 703.75,785.30 706.64,784.56 709.54,783.82 712.43,783.08 715.33,782.33 718.22,781.59 721.12,780.85 724.01,780.11 726.91,779.37 729.80,778.62 732.69,777.88 735.59,777.14 738.48,776.40 741.38,775.66 744.27,774.92 747.17,774.17 750.06,773.43 752.96,772.69 755.85,771.95 758.75,771.21 761.64,770.47 764.54,769.73 767.43,768.99 770.33,768.25 773.22,767.51 776.12,766.77 779.01,766.02 781.91,765.28 784.80,764.54 787.70,763.80 790.59,763.05 793.49,762.31 796.38,761.56 799.28,760.82 802.17,760.07 805.07,759.33 807.96,758.58 810.86,757.83 813.75,757.08 816.65,756.33 819.54,755.58 822.44,754.83 825.33,754.08 828.23,753.33 831.12,752.57 834.02,751.82 836.91,751.07 839.81,750.32 842.70,749.57 845.60,748.82 848.49,748.06 851.39,747.31 854.28,746.56 857.18,745.81 857.00,1018.50 107.40,1018.50" fill="#c0e49f"/>
<rect x="107.40" y="508.80" width="749.60" height="509.70" fill="none" stroke="#000" stroke-width="3.2"/>
<text x="107.40" y="1066.00" font-size="27.5" text-anchor="middle" font-weight="normal" fill="#000">0</text>
<text x="222.75" y="1066.00" font-size="27.5" text-anchor="middle" font-weight="normal" fill="#000">500</text>
<text x="338.10" y="1066.00" font-size="27.5" text-anchor="middle" font-weight="normal" fill="#000">1000</text>
<text x="453.45" y="1066.00" font-size="27.5" text-anchor="middle" font-weight="normal" fill="#000">1500</text>
<text x="568.80" y="1066.00" font-size="27.5" text-anchor="middle" font-weight="normal" fill="#000">2000</text>
<text x="684.15" y="1066.00" font-size="27.5" text-anchor="middle" font-weight="normal" fill="#000">2500</text>
<text x="799.50" y="1066.00" font-size="27.5" text-anchor="middle" font-weight="normal" fill="#000">3000</text>
<text x="79.90" y="1028.40" font-size="27.5" text-anchor="end" font-weight="normal" fill="#000">0</text>
<text x="79.90" y="943.45" font-size="27.5" text-anchor="end" font-weight="normal" fill="#000">5</text>
<text x="79.90" y="858.50" font-size="27.5" text-anchor="end" font-weight="normal" fill="#000">10</text>
<text x="79.90" y="773.55" font-size="27.5" text-anchor="end" font-weight="normal" fill="#000">15</text>
<text x="79.90" y="688.60" font-size="27.5" text-anchor="end" font-weight="normal" fill="#000">20</text>
<text x="79.90" y="603.65" font-size="27.5" text-anchor="end" font-weight="normal" fill="#000">25</text>
<text x="79.90" y="518.70" font-size="27.5" text-anchor="end" font-weight="normal" fill="#000">30</text>
<path d="M107.40,1018.50V1032.30" stroke="#000" stroke-width="3.1"/><path d="M222.75,1018.50V1032.30" stroke="#000" stroke-width="3.1"/><path d="M338.10,1018.50V1032.30" stroke="#000" stroke-width="3.1"/><path d="M453.45,1018.50V1032.30" stroke="#000" stroke-width="3.1"/><path d="M568.80,1018.50V1032.30" stroke="#000" stroke-width="3.1"/><path d="M684.15,1018.50V1032.30" stroke="#000" stroke-width="3.1"/><path d="M799.50,1018.50V1032.30" stroke="#000" stroke-width="3.1"/><path d="M130.47,1018.50V1026.70" stroke="#000" stroke-width="2.0"/><path d="M153.54,1018.50V1026.70" stroke="#000" stroke-width="2.0"/><path d="M176.61,1018.50V1026.70" stroke="#000" stroke-width="2.0"/><path d="M199.68,1018.50V1026.70" stroke="#000" stroke-width="2.0"/><path d="M245.82,1018.50V1026.70" stroke="#000" stroke-width="2.0"/><path d="M268.89,1018.50V1026.70" stroke="#000" stroke-width="2.0"/><path d="M291.96,1018.50V1026.70" stroke="#000" stroke-width="2.0"/><path d="M315.03,1018.50V1026.70" stroke="#000" stroke-width="2.0"/><path d="M361.17,1018.50V1026.70" stroke="#000" stroke-width="2.0"/><path d="M384.24,1018.50V1026.70" stroke="#000" stroke-width="2.0"/><path d="M407.31,1018.50V1026.70" stroke="#000" stroke-width="2.0"/><path d="M430.38,1018.50V1026.70" stroke="#000" stroke-width="2.0"/><path d="M476.52,1018.50V1026.70" stroke="#000" stroke-width="2.0"/><path d="M499.59,1018.50V1026.70" stroke="#000" stroke-width="2.0"/><path d="M522.66,1018.50V1026.70" stroke="#000" stroke-width="2.0"/><path d="M545.73,1018.50V1026.70" stroke="#000" stroke-width="2.0"/><path d="M591.87,1018.50V1026.70" stroke="#000" stroke-width="2.0"/><path d="M614.94,1018.50V1026.70" stroke="#000" stroke-width="2.0"/><path d="M638.01,1018.50V1026.70" stroke="#000" stroke-width="2.0"/><path d="M661.08,1018.50V1026.70" stroke="#000" stroke-width="2.0"/><path d="M707.22,1018.50V1026.70" stroke="#000" stroke-width="2.0"/><path d="M730.29,1018.50V1026.70" stroke="#000" stroke-width="2.0"/><path d="M753.36,1018.50V1026.70" stroke="#000" stroke-width="2.0"/><path d="M776.43,1018.50V1026.70" stroke="#000" stroke-width="2.0"/><path d="M822.57,1018.50V1026.70" stroke="#000" stroke-width="2.0"/><path d="M845.64,1018.50V1026.70" stroke="#000" stroke-width="2.0"/><path d="M107.40,1018.50H93.30" stroke="#000" stroke-width="3.1"/><path d="M107.40,933.55H93.30" stroke="#000" stroke-width="3.1"/><path d="M107.40,848.60H93.30" stroke="#000" stroke-width="3.1"/><path d="M107.40,763.65H93.30" stroke="#000" stroke-width="3.1"/><path d="M107.40,678.70H93.30" stroke="#000" stroke-width="3.1"/><path d="M107.40,593.75H93.30" stroke="#000" stroke-width="3.1"/><path d="M107.40,508.80H93.30" stroke="#000" stroke-width="3.1"/><path d="M107.40,1001.51H99.30" stroke="#000" stroke-width="2.0"/><path d="M107.40,984.52H99.30" stroke="#000" stroke-width="2.0"/><path d="M107.40,967.53H99.30" stroke="#000" stroke-width="2.0"/><path d="M107.40,950.54H99.30" stroke="#000" stroke-width="2.0"/><path d="M107.40,916.56H99.30" stroke="#000" stroke-width="2.0"/><path d="M107.40,899.57H99.30" stroke="#000" stroke-width="2.0"/><path d="M107.40,882.58H99.30" stroke="#000" stroke-width="2.0"/><path d="M107.40,865.59H99.30" stroke="#000" stroke-width="2.0"/><path d="M107.40,831.61H99.30" stroke="#000" stroke-width="2.0"/><path d="M107.40,814.62H99.30" stroke="#000" stroke-width="2.0"/><path d="M107.40,797.63H99.30" stroke="#000" stroke-width="2.0"/><path d="M107.40,780.64H99.30" stroke="#000" stroke-width="2.0"/><path d="M107.40,746.66H99.30" stroke="#000" stroke-width="2.0"/><path d="M107.40,729.67H99.30" stroke="#000" stroke-width="2.0"/><path d="M107.40,712.68H99.30" stroke="#000" stroke-width="2.0"/><path d="M107.40,695.69H99.30" stroke="#000" stroke-width="2.0"/><path d="M107.40,661.71H99.30" stroke="#000" stroke-width="2.0"/><path d="M107.40,644.72H99.30" stroke="#000" stroke-width="2.0"/><path d="M107.40,627.73H99.30" stroke="#000" stroke-width="2.0"/><path d="M107.40,610.74H99.30" stroke="#000" stroke-width="2.0"/><path d="M107.40,576.76H99.30" stroke="#000" stroke-width="2.0"/><path d="M107.40,559.77H99.30" stroke="#000" stroke-width="2.0"/><path d="M107.40,542.78H99.30" stroke="#000" stroke-width="2.0"/><path d="M107.40,525.79H99.30" stroke="#000" stroke-width="2.0"/>
<text x="482.00" y="1106.60" font-size="27.75" text-anchor="middle" font-weight="normal" fill="#000">Cycle number</text>
<text x="28.30" y="763.70" font-size="27.5" text-anchor="middle" font-weight="normal" fill="#000" transform="rotate(-90 28.30 763.70)">Total capacity loss (%)</text>
<text x="108.00" y="484.80" font-size="31.2" text-anchor="start" font-weight="bold" fill="#000">b</text>
<text x="369.30" y="553.70" font-size="27.5" text-anchor="start" font-weight="normal" fill="#000">Yang et al.</text>
<rect x="132.1" y="573.5" width="55" height="19.2" fill="#c0e49f"/>
<rect x="132.1" y="613" width="55" height="19.2" fill="#9a9a9a"/>
<text x="209.80" y="593.20" font-size="27.5" text-anchor="start" font-weight="normal" fill="#000">Lithium inventory loss due to SEI growth</text>
<text x="209.80" y="632.70" font-size="27.5" text-anchor="start" font-weight="normal" fill="#000">Lithium inventory loss due to lithium plating</text>
<clipPath id="clipc"><rect x="1039.7" y="508.9" width="749.5" height="511.6"/></clipPath>
<g clip-path="url(#clipc)" fill="none" stroke-width="3.9" stroke-linejoin="round">
<polyline points="1043.16,674.52 1045.03,682.70 1046.90,693.25 1048.77,701.57 1050.65,707.18 1052.52,711.85 1054.39,716.35 1056.26,721.30 1058.13,726.42 1060.00,731.46 1061.87,736.23 1063.74,740.74 1065.61,745.12 1067.48,749.33 1069.36,753.31 1071.23,757.03 1073.10,760.53 1074.97,763.85 1076.84,767.03 1078.71,770.09 1080.58,773.06 1082.45,775.97 1084.32,778.82 1086.19,781.59 1088.07,784.28 1089.94,786.89 1091.81,789.40 1093.68,791.82 1095.55,794.16 1097.42,796.41 1099.29,798.60 1101.16,800.73 1103.03,802.81 1104.90,804.85 1106.78,806.84 1108.65,808.78 1110.52,810.67 1112.39,812.53 1114.26,814.34 1116.13,816.13 1118.00,817.88 1119.87,819.61 1121.74,821.29 1123.61,822.94 1125.49,824.54 1127.36,826.09 1129.23,827.60 1131.10,829.07 1132.97,830.50 1134.84,831.90 1136.71,833.26 1138.58,834.60 1140.45,835.89 1142.32,837.16 1144.20,838.40 1146.07,839.62 1147.94,840.83 1149.81,842.03 1151.68,843.21 1153.55,844.39 1155.42,845.55 1157.29,846.70 1159.16,847.83 1161.03,848.96 1162.91,850.10 1164.78,851.24 1166.65,852.38 1168.52,853.51 1170.39,854.62 1172.26,855.69 1174.13,856.74 1176.00,857.74 1177.87,858.69 1179.74,859.61 1181.62,860.52 1183.49,861.41 1185.36,862.29 1187.23,863.15 1189.10,864.00 1190.97,864.84 1192.84,865.66 1194.71,866.47 1196.58,867.26 1198.45,868.04 1200.33,868.80 1202.20,869.56 1204.07,870.29 1205.94,871.02 1207.81,871.73 1209.68,872.43 1211.55,873.11 1213.42,873.78 1215.29,874.44 1217.16,875.08 1219.04,875.72 1220.91,876.34 1222.78,876.95 1224.65,877.55 1226.52,878.14 1228.39,878.72 1230.26,879.29 1232.13,879.85 1234.00,880.41 1235.87,880.95 1237.75,881.49 1239.62,882.02 1241.49,882.54 1243.36,883.06 1245.23,883.57 1247.10,884.08 1248.97,884.58 1250.84,885.07 1252.71,885.56 1254.58,886.04 1256.46,886.52 1258.33,886.99 1260.20,887.46 1262.07,887.91 1263.94,888.37 1265.81,888.82 1267.68,889.26 1269.55,889.69 1271.42,890.13 1273.29,890.55 1275.17,890.98 1277.04,891.40 1278.91,891.81 1280.78,892.22 1282.65,892.63 1284.52,893.03 1286.39,893.43 1288.26,893.82 1290.13,894.22 1292.00,894.61 1293.88,894.99 1295.75,895.38 1297.62,895.76 1299.49,896.14 1301.36,896.51 1303.23,896.89 1305.10,897.25 1306.97,897.62 1308.84,897.98 1310.71,898.34 1312.59,898.69 1314.46,899.04 1316.33,899.38 1318.20,899.72 1320.07,900.05 1321.94,900.39 1323.81,900.71 1325.68,901.03 1327.55,901.35 1329.42,901.66 1331.30,901.96 1333.17,902.26 1335.04,902.56 1336.91,902.86 1338.78,903.15 1340.65,903.44 1342.52,903.72 1344.39,904.00 1346.26,904.28 1348.13,904.56 1350.01,904.83 1351.88,905.10 1353.75,905.37 1355.62,905.63 1357.49,905.89 1359.36,906.15 1361.23,906.41 1363.10,906.66 1364.97,906.91 1366.85,907.17 1368.72,907.41 1370.59,907.66 1372.46,907.91 1374.33,908.15 1376.20,908.39 1378.07,908.63 1379.94,908.87 1381.81,909.10 1383.68,909.34 1385.56,909.57 1387.43,909.79 1389.30,910.02 1391.17,910.24 1393.04,910.46 1394.91,910.67 1396.78,910.88 1398.65,911.09 1400.52,911.30 1402.39,911.50 1404.27,911.70 1406.14,911.90 1408.01,912.09 1409.88,912.28 1411.75,912.47 1413.62,912.65 1415.49,912.84 1417.36,913.02 1419.23,913.20 1421.10,913.38 1422.98,913.55 1424.85,913.72 1426.72,913.90 1428.59,914.07 1430.46,914.24 1432.33,914.41 1434.20,914.57 1436.07,914.74 1437.94,914.90 1439.81,915.07 1441.69,915.23 1443.56,915.39 1445.43,915.55 1447.30,915.71 1449.17,915.86 1451.04,916.02 1452.91,916.17 1454.78,916.32 1456.65,916.47 1458.52,916.62 1460.40,916.77 1462.27,916.91 1464.14,917.06 1466.01,917.21 1467.88,917.36 1469.75,917.51 1471.62,917.66 1473.49,917.81 1475.36,917.96 1477.23,918.11 1479.11,918.26 1480.98,918.42 1482.85,918.57 1484.72,918.73 1486.59,918.89 1488.46,919.04 1490.33,919.20 1492.20,919.36 1494.07,919.52 1495.94,919.67 1497.82,919.83 1499.69,919.99 1501.56,920.14 1503.43,920.29 1505.30,920.44 1507.17,920.59 1509.04,920.74 1510.91,920.89 1512.78,921.03 1514.65,921.17 1516.53,921.31 1518.40,921.44 1520.27,921.57 1522.14,921.70 1524.01,921.83 1525.88,921.95 1527.75,922.07 1529.62,922.19 1531.49,922.32 1533.36,922.44 1535.24,922.56 1537.11,922.68 1538.98,922.80 1540.85,922.92 1542.72,923.05 1544.59,923.17 1546.46,923.30 1548.33,923.43 1550.20,923.57 1552.07,923.70 1553.95,923.84 1555.82,923.99 1557.69,924.14 1559.56,924.29 1561.43,924.45 1563.30,924.60 1565.17,924.76 1567.04,924.93 1568.91,925.09 1570.78,925.25 1572.66,925.41 1574.53,925.57 1576.40,925.73 1578.27,925.89 1580.14,926.04 1582.01,926.20 1583.88,926.35 1585.75,926.49 1587.62,926.63 1589.49,926.76 1591.37,926.89 1593.24,927.02 1595.11,927.15 1596.98,927.28 1598.85,927.41 1600.72,927.53 1602.59,927.65 1604.46,927.77 1606.33,927.89 1608.20,928.01 1610.08,928.13 1611.95,928.24 1613.82,928.35 1615.69,928.46 1617.56,928.57 1619.43,928.67 1621.30,928.77 1623.17,928.87 1625.04,928.97 1626.91,929.06 1628.79,929.15 1630.66,929.24 1632.53,929.33 1634.40,929.41 1636.27,929.50 1638.14,929.58 1640.01,929.66 1641.88,929.74 1643.75,929.82 1645.62,929.90 1647.50,929.97 1649.37,930.05 1651.24,930.12 1653.11,930.19 1654.98,930.26 1656.85,930.33 1658.72,930.39 1660.59,930.46 1662.46,930.52 1664.33,930.58 1666.21,930.65 1668.08,930.71 1669.95,930.77 1671.82,930.83 1673.69,930.90 1675.56,930.96 1677.43,931.02 1679.30,931.08 1681.17,931.14 1683.04,931.20 1684.92,931.25 1686.79,931.31 1688.66,931.36 1690.53,931.40 1692.40,931.45 1694.27,931.49 1696.14,931.53 1698.01,931.56 1699.88,931.59 1701.75,931.61 1703.63,931.63 1705.50,931.65 1707.37,931.67 1709.24,931.69 1711.11,931.71 1712.98,931.73 1714.85,931.74 1716.72,931.76 1718.59,931.78 1720.46,931.79 1722.34,931.80 1724.21,931.82 1726.08,931.83 1727.95,931.84 1729.82,931.85 1731.69,931.85 1733.56,931.86 1735.43,931.86 1737.30,931.87 1739.17,931.87 1741.05,931.86 1742.92,931.84 1744.79,931.80 1746.66,931.74 1748.53,931.67 1750.40,931.59 1752.27,931.49 1754.14,931.38 1756.01,931.26 1757.88,931.12 1759.76,930.98 1761.63,930.82 1763.50,930.66 1765.37,930.48 1767.24,930.30 1769.11,930.11 1770.98,929.88 1772.85,929.56 1774.72,929.16 1776.59,928.70 1778.47,928.19 1780.34,927.64 1782.21,927.03 1784.08,926.27 1785.95,925.42 1787.82,924.55 1789.69,923.71" stroke="#c0e49f"/>
<polyline points="1039.70,1018.50 1041.58,1018.49 1043.46,1018.47 1045.34,1018.46 1047.22,1018.44 1049.10,1018.43 1050.98,1018.41 1052.86,1018.40 1054.74,1018.38 1056.62,1018.37 1058.50,1018.36 1060.38,1018.34 1062.26,1018.33 1064.14,1018.31 1066.02,1018.30 1067.90,1018.28 1069.77,1018.27 1071.65,1018.25 1073.53,1018.24 1075.41,1018.22 1077.29,1018.21 1079.17,1018.20 1081.05,1018.18 1082.93,1018.17 1084.81,1018.15 1086.69,1018.14 1088.57,1018.12 1090.45,1018.11 1092.33,1018.09 1094.21,1018.08 1096.09,1018.06 1097.97,1018.05 1099.85,1018.04 1101.73,1018.02 1103.61,1018.01 1105.49,1017.99 1107.37,1017.98 1109.25,1017.96 1111.13,1017.95 1113.01,1017.94 1114.89,1017.92 1116.77,1017.91 1118.65,1017.89 1120.53,1017.88 1122.41,1017.87 1124.29,1017.85 1126.17,1017.84 1128.04,1017.82 1129.92,1017.81 1131.80,1017.80 1133.68,1017.78 1135.56,1017.77 1137.44,1017.75 1139.32,1017.74 1141.20,1017.73 1143.08,1017.71 1144.96,1017.70 1146.84,1017.69 1148.72,1017.68 1150.60,1017.67 1152.48,1017.66 1154.36,1017.64 1156.24,1017.63 1158.12,1017.62 1160.00,1017.61 1161.88,1017.60 1163.76,1017.60 1165.64,1017.59 1167.52,1017.58 1169.40,1017.57 1171.28,1017.56 1173.16,1017.55 1175.04,1017.54 1176.92,1017.53 1178.80,1017.52 1180.68,1017.52 1182.56,1017.51 1184.44,1017.50 1186.31,1017.49 1188.19,1017.48 1190.07,1017.47 1191.95,1017.46 1193.83,1017.45 1195.71,1017.44 1197.59,1017.43 1199.47,1017.43 1201.35,1017.42 1203.23,1017.41 1205.11,1017.39 1206.99,1017.38 1208.87,1017.37 1210.75,1017.36 1212.63,1017.35 1214.51,1017.34 1216.39,1017.32 1218.27,1017.31 1220.15,1017.30 1222.03,1017.28 1223.91,1017.27 1225.79,1017.25 1227.67,1017.24 1229.55,1017.22 1231.43,1017.21 1233.31,1017.19 1235.19,1017.17 1237.07,1017.15 1238.95,1017.13 1240.83,1017.11 1242.71,1017.09 1244.58,1017.07 1246.46,1017.05 1248.34,1017.02 1250.22,1017.00 1252.10,1016.98 1253.98,1016.95 1255.86,1016.91 1257.74,1016.87 1259.62,1016.82 1261.50,1016.76 1263.38,1016.69 1265.26,1016.62 1267.14,1016.55 1269.02,1016.46 1270.90,1016.37 1272.78,1016.28 1274.66,1016.18 1276.54,1016.07 1278.42,1015.97 1280.30,1015.85 1282.18,1015.74 1284.06,1015.62 1285.94,1015.49 1287.82,1015.36 1289.70,1015.24 1291.58,1015.10 1293.46,1014.97 1295.34,1014.83 1297.22,1014.70 1299.10,1014.55 1300.98,1014.39 1302.85,1014.21 1304.73,1014.02 1306.61,1013.81 1308.49,1013.59 1310.37,1013.36 1312.25,1013.13 1314.13,1012.88 1316.01,1012.63 1317.89,1012.38 1319.77,1012.12 1321.65,1011.87 1323.53,1011.61 1325.41,1011.35 1327.29,1011.10 1329.17,1010.85 1331.05,1010.61 1332.93,1010.35 1334.81,1010.10 1336.69,1009.85 1338.57,1009.59 1340.45,1009.33 1342.33,1009.07 1344.21,1008.80 1346.09,1008.53 1347.97,1008.26 1349.85,1007.98 1351.73,1007.69 1353.61,1007.40 1355.49,1007.10 1357.37,1006.80 1359.25,1006.48 1361.12,1006.16 1363.00,1005.84 1364.88,1005.50 1366.76,1005.15 1368.64,1004.79 1370.52,1004.41 1372.40,1004.02 1374.28,1003.62 1376.16,1003.21 1378.04,1002.78 1379.92,1002.35 1381.80,1001.91 1383.68,1001.46 1385.56,1001.01 1387.44,1000.55 1389.32,1000.09 1391.20,999.62 1393.08,999.15 1394.96,998.67 1396.84,998.20 1398.72,997.73 1400.60,997.25 1402.48,996.78 1404.36,996.31 1406.24,995.83 1408.12,995.35 1410.00,994.87 1411.88,994.39 1413.76,993.90 1415.64,993.41 1417.52,992.91 1419.40,992.41 1421.27,991.90 1423.15,991.39 1425.03,990.87 1426.91,990.35 1428.79,989.82 1430.67,989.29 1432.55,988.74 1434.43,988.20 1436.31,987.64 1438.19,987.08 1440.07,986.51 1441.95,985.94 1443.83,985.35 1445.71,984.76 1447.59,984.16 1449.47,983.55 1451.35,982.93 1453.23,982.30 1455.11,981.67 1456.99,981.03 1458.87,980.37 1460.75,979.71 1462.63,979.04 1464.51,978.36 1466.39,977.67 1468.27,976.97 1470.15,976.26 1472.03,975.53 1473.91,974.78 1475.79,974.02 1477.67,973.24 1479.54,972.45 1481.42,971.65 1483.30,970.84 1485.18,970.02 1487.06,969.19 1488.94,968.36 1490.82,967.52 1492.70,966.68 1494.58,965.85 1496.46,965.01 1498.34,964.17 1500.22,963.33 1502.10,962.48 1503.98,961.62 1505.86,960.76 1507.74,959.89 1509.62,959.00 1511.50,958.11 1513.38,957.19 1515.26,956.27 1517.14,955.32 1519.02,954.36 1520.90,953.39 1522.78,952.40 1524.66,951.40 1526.54,950.38 1528.42,949.36 1530.30,948.32 1532.18,947.28 1534.06,946.23 1535.94,945.16 1537.81,944.09 1539.69,943.00 1541.57,941.91 1543.45,940.80 1545.33,939.67 1547.21,938.54 1549.09,937.39 1550.97,936.22 1552.85,935.04 1554.73,933.84 1556.61,932.62 1558.49,931.38 1560.37,930.13 1562.25,928.86 1564.13,927.59 1566.01,926.31 1567.89,925.02 1569.77,923.74 1571.65,922.46 1573.53,921.18 1575.41,919.91 1577.29,918.64 1579.17,917.36 1581.05,916.07 1582.93,914.77 1584.81,913.45 1586.69,912.10 1588.57,910.73 1590.45,909.33 1592.33,907.90 1594.21,906.43 1596.08,904.94 1597.96,903.43 1599.84,901.90 1601.72,900.36 1603.60,898.81 1605.48,897.26 1607.36,895.70 1609.24,894.15 1611.12,892.61 1613.00,891.06 1614.88,889.50 1616.76,887.94 1618.64,886.36 1620.52,884.77 1622.40,883.16 1624.28,881.53 1626.16,879.88 1628.04,878.19 1629.92,876.48 1631.80,874.74 1633.68,872.97 1635.56,871.19 1637.44,869.39 1639.32,867.56 1641.20,865.73 1643.08,863.88 1644.96,862.02 1646.84,860.15 1648.72,858.27 1650.60,856.38 1652.48,854.47 1654.35,852.54 1656.23,850.60 1658.11,848.63 1659.99,846.65 1661.87,844.64 1663.75,842.61 1665.63,840.55 1667.51,838.45 1669.39,836.32 1671.27,834.16 1673.15,831.98 1675.03,829.78 1676.91,827.57 1678.79,825.35 1680.67,823.13 1682.55,820.91 1684.43,818.69 1686.31,816.46 1688.19,814.23 1690.07,811.99 1691.95,809.75 1693.83,807.49 1695.71,805.23 1697.59,802.96 1699.47,800.68 1701.35,798.39 1703.23,796.09 1705.11,793.81 1706.99,791.53 1708.87,789.25 1710.75,786.95 1712.62,784.64 1714.50,782.29 1716.38,779.90 1718.26,777.47 1720.14,774.97 1722.02,772.44 1723.90,769.87 1725.78,767.27 1727.66,764.62 1729.54,761.92 1731.42,759.17 1733.30,756.36 1735.18,753.49 1737.06,750.56 1738.94,747.56 1740.82,744.51 1742.70,741.41 1744.58,738.23 1746.46,734.96 1748.34,731.58 1750.22,728.07 1752.10,724.41 1753.98,720.59 1755.86,716.60 1757.74,712.42 1759.62,708.04 1761.50,703.47 1763.38,698.69 1765.26,693.70 1767.14,688.48 1769.02,682.91 1770.89,676.97 1772.77,670.71 1774.65,664.18 1776.53,657.44 1778.41,650.52 1780.29,643.24 1782.17,635.60 1784.05,627.71 1785.93,619.70" stroke="#9a9a9a"/>
</g>
<rect x="1039.70" y="508.90" width="749.50" height="509.60" fill="none" stroke="#000" stroke-width="3.2"/>
<text x="1039.70" y="1066.00" font-size="27.5" text-anchor="middle" font-weight="normal" fill="#000">0</text>
<text x="1155.08" y="1066.00" font-size="27.5" text-anchor="middle" font-weight="normal" fill="#000">500</text>
<text x="1270.47" y="1066.00" font-size="27.5" text-anchor="middle" font-weight="normal" fill="#000">1000</text>
<text x="1385.85" y="1066.00" font-size="27.5" text-anchor="middle" font-weight="normal" fill="#000">1500</text>
<text x="1501.23" y="1066.00" font-size="27.5" text-anchor="middle" font-weight="normal" fill="#000">2000</text>
<text x="1616.62" y="1066.00" font-size="27.5" text-anchor="middle" font-weight="normal" fill="#000">2500</text>
<text x="1732.00" y="1066.00" font-size="27.5" text-anchor="middle" font-weight="normal" fill="#000">3000</text>
<text x="1012.00" y="1028.40" font-size="27.5" text-anchor="end" font-weight="normal" fill="#000">0.0000</text>
<text x="1012.00" y="964.70" font-size="27.5" text-anchor="end" font-weight="normal" fill="#000">0.0025</text>
<text x="1012.00" y="901.00" font-size="27.5" text-anchor="end" font-weight="normal" fill="#000">0.0050</text>
<text x="1012.00" y="837.30" font-size="27.5" text-anchor="end" font-weight="normal" fill="#000">0.0075</text>
<text x="1012.00" y="773.60" font-size="27.5" text-anchor="end" font-weight="normal" fill="#000">0.0100</text>
<text x="1012.00" y="709.90" font-size="27.5" text-anchor="end" font-weight="normal" fill="#000">0.0125</text>
<text x="1012.00" y="646.20" font-size="27.5" text-anchor="end" font-weight="normal" fill="#000">0.0150</text>
<text x="1012.00" y="582.50" font-size="27.5" text-anchor="end" font-weight="normal" fill="#000">0.0175</text>
<text x="1012.00" y="518.80" font-size="27.5" text-anchor="end" font-weight="normal" fill="#000">0.0200</text>
<path d="M1039.70,1018.50V1032.30" stroke="#000" stroke-width="3.1"/><path d="M1155.08,1018.50V1032.30" stroke="#000" stroke-width="3.1"/><path d="M1270.47,1018.50V1032.30" stroke="#000" stroke-width="3.1"/><path d="M1385.85,1018.50V1032.30" stroke="#000" stroke-width="3.1"/><path d="M1501.23,1018.50V1032.30" stroke="#000" stroke-width="3.1"/><path d="M1616.62,1018.50V1032.30" stroke="#000" stroke-width="3.1"/><path d="M1732.00,1018.50V1032.30" stroke="#000" stroke-width="3.1"/><path d="M1062.78,1018.50V1026.70" stroke="#000" stroke-width="2.0"/><path d="M1085.85,1018.50V1026.70" stroke="#000" stroke-width="2.0"/><path d="M1108.93,1018.50V1026.70" stroke="#000" stroke-width="2.0"/><path d="M1132.01,1018.50V1026.70" stroke="#000" stroke-width="2.0"/><path d="M1178.16,1018.50V1026.70" stroke="#000" stroke-width="2.0"/><path d="M1201.24,1018.50V1026.70" stroke="#000" stroke-width="2.0"/><path d="M1224.31,1018.50V1026.70" stroke="#000" stroke-width="2.0"/><path d="M1247.39,1018.50V1026.70" stroke="#000" stroke-width="2.0"/><path d="M1293.54,1018.50V1026.70" stroke="#000" stroke-width="2.0"/><path d="M1316.62,1018.50V1026.70" stroke="#000" stroke-width="2.0"/><path d="M1339.70,1018.50V1026.70" stroke="#000" stroke-width="2.0"/><path d="M1362.77,1018.50V1026.70" stroke="#000" stroke-width="2.0"/><path d="M1408.93,1018.50V1026.70" stroke="#000" stroke-width="2.0"/><path d="M1432.00,1018.50V1026.70" stroke="#000" stroke-width="2.0"/><path d="M1455.08,1018.50V1026.70" stroke="#000" stroke-width="2.0"/><path d="M1478.16,1018.50V1026.70" stroke="#000" stroke-width="2.0"/><path d="M1524.31,1018.50V1026.70" stroke="#000" stroke-width="2.0"/><path d="M1547.39,1018.50V1026.70" stroke="#000" stroke-width="2.0"/><path d="M1570.46,1018.50V1026.70" stroke="#000" stroke-width="2.0"/><path d="M1593.54,1018.50V1026.70" stroke="#000" stroke-width="2.0"/><path d="M1639.69,1018.50V1026.70" stroke="#000" stroke-width="2.0"/><path d="M1662.77,1018.50V1026.70" stroke="#000" stroke-width="2.0"/><path d="M1685.85,1018.50V1026.70" stroke="#000" stroke-width="2.0"/><path d="M1708.92,1018.50V1026.70" stroke="#000" stroke-width="2.0"/><path d="M1755.08,1018.50V1026.70" stroke="#000" stroke-width="2.0"/><path d="M1778.15,1018.50V1026.70" stroke="#000" stroke-width="2.0"/><path d="M1039.70,1018.50H1025.60" stroke="#000" stroke-width="3.1"/><path d="M1039.70,954.80H1025.60" stroke="#000" stroke-width="3.1"/><path d="M1039.70,891.10H1025.60" stroke="#000" stroke-width="3.1"/><path d="M1039.70,827.40H1025.60" stroke="#000" stroke-width="3.1"/><path d="M1039.70,763.70H1025.60" stroke="#000" stroke-width="3.1"/><path d="M1039.70,700.00H1025.60" stroke="#000" stroke-width="3.1"/><path d="M1039.70,636.30H1025.60" stroke="#000" stroke-width="3.1"/><path d="M1039.70,572.60H1025.60" stroke="#000" stroke-width="3.1"/><path d="M1039.70,508.90H1025.60" stroke="#000" stroke-width="3.1"/><path d="M1039.70,1005.76H1031.60" stroke="#000" stroke-width="2.0"/><path d="M1039.70,993.02H1031.60" stroke="#000" stroke-width="2.0"/><path d="M1039.70,980.28H1031.60" stroke="#000" stroke-width="2.0"/><path d="M1039.70,967.54H1031.60" stroke="#000" stroke-width="2.0"/><path d="M1039.70,942.06H1031.60" stroke="#000" stroke-width="2.0"/><path d="M1039.70,929.32H1031.60" stroke="#000" stroke-width="2.0"/><path d="M1039.70,916.58H1031.60" stroke="#000" stroke-width="2.0"/><path d="M1039.70,903.84H1031.60" stroke="#000" stroke-width="2.0"/><path d="M1039.70,878.36H1031.60" stroke="#000" stroke-width="2.0"/><path d="M1039.70,865.62H1031.60" stroke="#000" stroke-width="2.0"/><path d="M1039.70,852.88H1031.60" stroke="#000" stroke-width="2.0"/><path d="M1039.70,840.14H1031.60" stroke="#000" stroke-width="2.0"/><path d="M1039.70,814.66H1031.60" stroke="#000" stroke-width="2.0"/><path d="M1039.70,801.92H1031.60" stroke="#000" stroke-width="2.0"/><path d="M1039.70,789.18H1031.60" stroke="#000" stroke-width="2.0"/><path d="M1039.70,776.44H1031.60" stroke="#000" stroke-width="2.0"/><path d="M1039.70,750.96H1031.60" stroke="#000" stroke-width="2.0"/><path d="M1039.70,738.22H1031.60" stroke="#000" stroke-width="2.0"/><path d="M1039.70,725.48H1031.60" stroke="#000" stroke-width="2.0"/><path d="M1039.70,712.74H1031.60" stroke="#000" stroke-width="2.0"/><path d="M1039.70,687.26H1031.60" stroke="#000" stroke-width="2.0"/><path d="M1039.70,674.52H1031.60" stroke="#000" stroke-width="2.0"/><path d="M1039.70,661.78H1031.60" stroke="#000" stroke-width="2.0"/><path d="M1039.70,649.04H1031.60" stroke="#000" stroke-width="2.0"/><path d="M1039.70,623.56H1031.60" stroke="#000" stroke-width="2.0"/><path d="M1039.70,610.82H1031.60" stroke="#000" stroke-width="2.0"/><path d="M1039.70,598.08H1031.60" stroke="#000" stroke-width="2.0"/><path d="M1039.70,585.34H1031.60" stroke="#000" stroke-width="2.0"/><path d="M1039.70,559.86H1031.60" stroke="#000" stroke-width="2.0"/><path d="M1039.70,547.12H1031.60" stroke="#000" stroke-width="2.0"/><path d="M1039.70,534.38H1031.60" stroke="#000" stroke-width="2.0"/><path d="M1039.70,521.64H1031.60" stroke="#000" stroke-width="2.0"/>
<text x="1414.45" y="1106.60" font-size="27.75" text-anchor="middle" font-weight="normal" fill="#000">Cycle number</text>
<text x="905.30" y="763.70" font-size="27.5" text-anchor="middle" font-weight="normal" fill="#000" transform="rotate(-90 905.30 763.70)">Capacity loss per cycle (%)</text>
<text x="1040.00" y="484.80" font-size="31.2" text-anchor="start" font-weight="bold" fill="#000">c</text>
<text x="1301.60" y="553.50" font-size="27.5" text-anchor="start" font-weight="normal" fill="#000">Yang et al.</text>
<path d="M1062.4,600.95H1121.7" stroke="#c0e49f" stroke-width="4"/>
<path d="M1062.4,669.4H1121.7" stroke="#9a9a9a" stroke-width="4"/>
<text x="1141.50" y="592.30" font-size="27.5" text-anchor="start" font-weight="normal" fill="#000">Lithium inventory loss due to SEI growth</text>
<text x="1141.50" y="622.30" font-size="27.5" text-anchor="start" font-weight="normal" fill="#000">per cycle</text>
<text x="1141.50" y="661.20" font-size="27.5" text-anchor="start" font-weight="normal" fill="#000">Lithium inventory loss due to lithium plating</text>
<text x="1141.50" y="691.30" font-size="27.5" text-anchor="start" font-weight="normal" fill="#000">per cycle</text>
<rect x="135.30" y="1692.10" width="12.35" height="6.40" fill="#3f5fa2"/><rect x="147.65" y="1433.24" width="12.35" height="265.26" fill="#a5272b"/><rect x="168.00" y="1344.04" width="12.35" height="354.46" fill="#3f5fa2"/><rect x="180.35" y="1396.67" width="12.35" height="301.83" fill="#a5272b"/><rect x="200.70" y="1406.04" width="12.35" height="292.46" fill="#3f5fa2"/><rect x="213.05" y="1576.04" width="12.35" height="122.46" fill="#a5272b"/><rect x="233.40" y="1188.80" width="12.35" height="509.70" fill="#3f5fa2"/><rect x="245.75" y="1571.06" width="12.35" height="127.44" fill="#a5272b"/><rect x="266.10" y="1270.53" width="12.35" height="427.97" fill="#3f5fa2"/><rect x="278.45" y="1589.43" width="12.35" height="109.07" fill="#a5272b"/><rect x="298.80" y="1335.74" width="12.35" height="362.76" fill="#3f5fa2"/><rect x="311.15" y="1594.77" width="12.35" height="103.73" fill="#a5272b"/><rect x="331.50" y="1409.24" width="12.35" height="289.26" fill="#3f5fa2"/><rect x="343.85" y="1598.21" width="12.35" height="100.29" fill="#a5272b"/><rect x="364.20" y="1487.48" width="12.35" height="211.02" fill="#3f5fa2"/><rect x="376.55" y="1606.03" width="12.35" height="92.47" fill="#a5272b"/><rect x="396.90" y="1547.35" width="12.35" height="151.15" fill="#3f5fa2"/><rect x="409.25" y="1637.21" width="12.35" height="61.29" fill="#a5272b"/><rect x="429.60" y="1592.28" width="12.35" height="106.22" fill="#3f5fa2"/><rect x="441.95" y="1644.20" width="12.35" height="54.30" fill="#a5272b"/><rect x="462.30" y="1629.39" width="12.35" height="69.11" fill="#3f5fa2"/><rect x="474.65" y="1659.02" width="12.35" height="39.48" fill="#a5272b"/><rect x="495.00" y="1639.22" width="12.35" height="59.28" fill="#3f5fa2"/><rect x="507.35" y="1660.56" width="12.35" height="37.94" fill="#a5272b"/><rect x="527.70" y="1659.97" width="12.35" height="38.53" fill="#3f5fa2"/><rect x="540.05" y="1672.77" width="12.35" height="25.73" fill="#a5272b"/><rect x="560.40" y="1679.24" width="12.35" height="19.26" fill="#3f5fa2"/><rect x="572.75" y="1673.84" width="12.35" height="24.66" fill="#a5272b"/><rect x="593.10" y="1681.90" width="12.35" height="16.60" fill="#3f5fa2"/><rect x="605.45" y="1689.02" width="12.35" height="9.48" fill="#a5272b"/><rect x="625.80" y="1683.09" width="12.35" height="15.41" fill="#3f5fa2"/><rect x="638.15" y="1689.02" width="12.35" height="9.48" fill="#a5272b"/><rect x="658.50" y="1692.57" width="12.35" height="5.93" fill="#3f5fa2"/><rect x="670.85" y="1695.54" width="12.35" height="2.96" fill="#a5272b"/><rect x="691.20" y="1691.62" width="12.35" height="6.88" fill="#3f5fa2"/><rect x="703.55" y="1692.57" width="12.35" height="5.93" fill="#a5272b"/><rect x="723.90" y="1691.09" width="12.35" height="7.41" fill="#3f5fa2"/><rect x="736.25" y="1691.09" width="12.35" height="7.41" fill="#a5272b"/><rect x="756.60" y="1694.05" width="12.35" height="4.45" fill="#3f5fa2"/><rect x="768.95" y="1694.05" width="12.35" height="4.45" fill="#a5272b"/><rect x="789.30" y="1690.20" width="12.35" height="8.30" fill="#3f5fa2"/><rect x="801.65" y="1693.76" width="12.35" height="4.74" fill="#a5272b"/><rect x="822.00" y="1688.13" width="12.35" height="10.37" fill="#3f5fa2"/><rect x="834.35" y="1688.13" width="12.35" height="10.37" fill="#a5272b"/>
<rect x="107.40" y="1188.80" width="749.60" height="509.70" fill="none" stroke="#000" stroke-width="3.2"/>
<text x="107.40" y="1746.00" font-size="27.5" text-anchor="middle" font-weight="normal" fill="#000">0</text>
<text x="207.69" y="1746.00" font-size="27.5" text-anchor="middle" font-weight="normal" fill="#000">200</text>
<text x="307.97" y="1746.00" font-size="27.5" text-anchor="middle" font-weight="normal" fill="#000">400</text>
<text x="408.26" y="1746.00" font-size="27.5" text-anchor="middle" font-weight="normal" fill="#000">600</text>
<text x="508.54" y="1746.00" font-size="27.5" text-anchor="middle" font-weight="normal" fill="#000">800</text>
<text x="608.83" y="1746.00" font-size="27.5" text-anchor="middle" font-weight="normal" fill="#000">1000</text>
<text x="709.11" y="1746.00" font-size="27.5" text-anchor="middle" font-weight="normal" fill="#000">1200</text>
<text x="809.40" y="1746.00" font-size="27.5" text-anchor="middle" font-weight="normal" fill="#000">1400</text>
<text x="79.90" y="1708.40" font-size="27.5" text-anchor="end" font-weight="normal" fill="#000">0.0</text>
<text x="79.90" y="1649.12" font-size="27.5" text-anchor="end" font-weight="normal" fill="#000">0.5</text>
<text x="79.90" y="1589.85" font-size="27.5" text-anchor="end" font-weight="normal" fill="#000">1.0</text>
<text x="79.90" y="1530.58" font-size="27.5" text-anchor="end" font-weight="normal" fill="#000">1.5</text>
<text x="79.90" y="1471.30" font-size="27.5" text-anchor="end" font-weight="normal" fill="#000">2.0</text>
<text x="79.90" y="1412.03" font-size="27.5" text-anchor="end" font-weight="normal" fill="#000">2.5</text>
<text x="79.90" y="1352.75" font-size="27.5" text-anchor="end" font-weight="normal" fill="#000">3.0</text>
<text x="79.90" y="1293.47" font-size="27.5" text-anchor="end" font-weight="normal" fill="#000">3.5</text>
<text x="79.90" y="1234.20" font-size="27.5" text-anchor="end" font-weight="normal" fill="#000">4.0</text>
<path d="M107.40,1698.50V1712.30" stroke="#000" stroke-width="3.1"/><path d="M207.69,1698.50V1712.30" stroke="#000" stroke-width="3.1"/><path d="M307.97,1698.50V1712.30" stroke="#000" stroke-width="3.1"/><path d="M408.26,1698.50V1712.30" stroke="#000" stroke-width="3.1"/><path d="M508.54,1698.50V1712.30" stroke="#000" stroke-width="3.1"/><path d="M608.83,1698.50V1712.30" stroke="#000" stroke-width="3.1"/><path d="M709.11,1698.50V1712.30" stroke="#000" stroke-width="3.1"/><path d="M809.40,1698.50V1712.30" stroke="#000" stroke-width="3.1"/><path d="M132.47,1698.50V1706.70" stroke="#000" stroke-width="2.0"/><path d="M157.54,1698.50V1706.70" stroke="#000" stroke-width="2.0"/><path d="M182.61,1698.50V1706.70" stroke="#000" stroke-width="2.0"/><path d="M232.76,1698.50V1706.70" stroke="#000" stroke-width="2.0"/><path d="M257.83,1698.50V1706.70" stroke="#000" stroke-width="2.0"/><path d="M282.90,1698.50V1706.70" stroke="#000" stroke-width="2.0"/><path d="M333.04,1698.50V1706.70" stroke="#000" stroke-width="2.0"/><path d="M358.11,1698.50V1706.70" stroke="#000" stroke-width="2.0"/><path d="M383.19,1698.50V1706.70" stroke="#000" stroke-width="2.0"/><path d="M433.33,1698.50V1706.70" stroke="#000" stroke-width="2.0"/><path d="M458.40,1698.50V1706.70" stroke="#000" stroke-width="2.0"/><path d="M483.47,1698.50V1706.70" stroke="#000" stroke-width="2.0"/><path d="M533.61,1698.50V1706.70" stroke="#000" stroke-width="2.0"/><path d="M558.69,1698.50V1706.70" stroke="#000" stroke-width="2.0"/><path d="M583.76,1698.50V1706.70" stroke="#000" stroke-width="2.0"/><path d="M633.90,1698.50V1706.70" stroke="#000" stroke-width="2.0"/><path d="M658.97,1698.50V1706.70" stroke="#000" stroke-width="2.0"/><path d="M684.04,1698.50V1706.70" stroke="#000" stroke-width="2.0"/><path d="M734.19,1698.50V1706.70" stroke="#000" stroke-width="2.0"/><path d="M759.26,1698.50V1706.70" stroke="#000" stroke-width="2.0"/><path d="M784.33,1698.50V1706.70" stroke="#000" stroke-width="2.0"/><path d="M834.47,1698.50V1706.70" stroke="#000" stroke-width="2.0"/><path d="M107.40,1698.50H93.30" stroke="#000" stroke-width="3.1"/><path d="M107.40,1639.22H93.30" stroke="#000" stroke-width="3.1"/><path d="M107.40,1579.95H93.30" stroke="#000" stroke-width="3.1"/><path d="M107.40,1520.67H93.30" stroke="#000" stroke-width="3.1"/><path d="M107.40,1461.40H93.30" stroke="#000" stroke-width="3.1"/><path d="M107.40,1402.12H93.30" stroke="#000" stroke-width="3.1"/><path d="M107.40,1342.85H93.30" stroke="#000" stroke-width="3.1"/><path d="M107.40,1283.57H93.30" stroke="#000" stroke-width="3.1"/><path d="M107.40,1224.30H93.30" stroke="#000" stroke-width="3.1"/><path d="M107.40,1686.64H99.30" stroke="#000" stroke-width="2.0"/><path d="M107.40,1674.79H99.30" stroke="#000" stroke-width="2.0"/><path d="M107.40,1662.93H99.30" stroke="#000" stroke-width="2.0"/><path d="M107.40,1651.08H99.30" stroke="#000" stroke-width="2.0"/><path d="M107.40,1627.37H99.30" stroke="#000" stroke-width="2.0"/><path d="M107.40,1615.51H99.30" stroke="#000" stroke-width="2.0"/><path d="M107.40,1603.66H99.30" stroke="#000" stroke-width="2.0"/><path d="M107.40,1591.81H99.30" stroke="#000" stroke-width="2.0"/><path d="M107.40,1568.10H99.30" stroke="#000" stroke-width="2.0"/><path d="M107.40,1556.24H99.30" stroke="#000" stroke-width="2.0"/><path d="M107.40,1544.38H99.30" stroke="#000" stroke-width="2.0"/><path d="M107.40,1532.53H99.30" stroke="#000" stroke-width="2.0"/><path d="M107.40,1508.82H99.30" stroke="#000" stroke-width="2.0"/><path d="M107.40,1496.96H99.30" stroke="#000" stroke-width="2.0"/><path d="M107.40,1485.11H99.30" stroke="#000" stroke-width="2.0"/><path d="M107.40,1473.25H99.30" stroke="#000" stroke-width="2.0"/><path d="M107.40,1449.55H99.30" stroke="#000" stroke-width="2.0"/><path d="M107.40,1437.69H99.30" stroke="#000" stroke-width="2.0"/><path d="M107.40,1425.84H99.30" stroke="#000" stroke-width="2.0"/><path d="M107.40,1413.98H99.30" stroke="#000" stroke-width="2.0"/><path d="M107.40,1390.27H99.30" stroke="#000" stroke-width="2.0"/><path d="M107.40,1378.41H99.30" stroke="#000" stroke-width="2.0"/><path d="M107.40,1366.56H99.30" stroke="#000" stroke-width="2.0"/><path d="M107.40,1354.70H99.30" stroke="#000" stroke-width="2.0"/><path d="M107.40,1330.99H99.30" stroke="#000" stroke-width="2.0"/><path d="M107.40,1319.14H99.30" stroke="#000" stroke-width="2.0"/><path d="M107.40,1307.28H99.30" stroke="#000" stroke-width="2.0"/><path d="M107.40,1295.43H99.30" stroke="#000" stroke-width="2.0"/><path d="M107.40,1271.72H99.30" stroke="#000" stroke-width="2.0"/><path d="M107.40,1259.87H99.30" stroke="#000" stroke-width="2.0"/><path d="M107.40,1248.01H99.30" stroke="#000" stroke-width="2.0"/><path d="M107.40,1236.15H99.30" stroke="#000" stroke-width="2.0"/><path d="M107.40,1212.44H99.30" stroke="#000" stroke-width="2.0"/><path d="M107.40,1200.59H99.30" stroke="#000" stroke-width="2.0"/>
<text x="482.00" y="1786.60" font-size="27.5" text-anchor="middle" font-weight="normal" fill="#000">Pore radius (nm)</text>
<text x="19.60" y="1443.60" font-size="27.5" text-anchor="middle" font-weight="normal" fill="#000" transform="rotate(-90 19.60 1443.60)">Percent total volume (%)</text>
<text x="108.00" y="1164.80" font-size="31.2" text-anchor="start" font-weight="bold" fill="#000">d</text>
<text x="432.00" y="1233.70" font-size="27.5" text-anchor="start" font-weight="normal" fill="#000">Frisco et al.</text>
<text x="432.00" y="1263.30" font-size="27.5" text-anchor="start" font-weight="normal" fill="#000">NMC/graphite cylindrical cell</text>
<text x="432.00" y="1292.90" font-size="27.5" text-anchor="start" font-weight="normal" fill="#000">0.33C/0.33C, ~24°C</text>
<rect x="378.7" y="1311.7" width="55.3" height="19.7" fill="#3f5fa2"/>
<rect x="378.7" y="1351.2" width="55.3" height="19.7" fill="#a5272b"/>
<text x="456.70" y="1331.40" font-size="27.5" text-anchor="start" font-weight="normal" fill="#000">Pristine</text>
<text x="456.70" y="1370.90" font-size="27.5" text-anchor="start" font-weight="normal" fill="#000">Cycled (400 cycles, post-knee)</text>
<polygon points="1067.00,1217.30 1113.90,1240.30 1164.10,1218.90 1164.50,1270.80 1293.40,1337.50 1298.40,1572.70 1347.20,1596.00 1299.50,1619.30 1300.60,1646.70 1271.80,1632.80 1108.10,1712.60 957.80,1634.10 930.90,1646.70 929.50,1619.40 883.20,1595.20 928.10,1574.00 923.00,1334.10 1067.00,1265.80" fill="#7c7c7c"/>
<g clip-path="url(#cip)"><rect x="954.3" y="1240.3" width="316.1" height="433.9" filter="url(#grain)"/></g>
<g clip-path="url(#csp)">
<g transform="rotate(8 1114.3 1457.2)"><rect x="842.1" y="1185.0" width="544.5" height="544.5" filter="url(#tex2)"/></g>
<g mask="url(#mup)"><g transform="rotate(62 1114.3 1457.2)"><rect x="842.1" y="1185.0" width="544.5" height="544.5" filter="url(#tex)"/></g></g>
</g>
<polygon points="1515.70,1236.90 1533.40,1236.90 1577.20,1255.90 1618.90,1234.40 1653.30,1234.40 1653.30,1292.80 1754.40,1341.80 1753.30,1557.80 1820.90,1592.70 1594.90,1711.40 1358.00,1598.60 1417.60,1568.40 1419.20,1336.50 1515.70,1289.60" fill="#7c7c7c"/>
<g clip-path="url(#cia)"><rect x="1440.6" y="1236.0" width="299.2" height="446.8" filter="url(#grain)"/></g>
<g clip-path="url(#csa)">
<g transform="rotate(6 1590.8 1446.8)"><rect x="1343.6" y="1199.7" width="494.3" height="494.3" filter="url(#tex2)"/></g>
<g mask="url(#mua)"><g transform="rotate(68 1590.8 1446.8)"><rect x="1343.6" y="1199.7" width="494.3" height="494.3" filter="url(#tex)"/></g></g>
</g>
<g clip-path="url(#cia)" fill="none" stroke-linejoin="round"><path d="M1577.2,1255.9C1583.5,1254.7 1603.6,1268.1 1608.5,1273.0C1613.4,1277.9 1616.5,1292.9 1618.9,1298.0C1621.3,1303.1 1627.4,1311.1 1629.3,1316.7C1631.2,1322.3 1634.1,1340.3 1635.6,1345.9C1637.1,1351.5 1637.7,1360.8 1641.8,1364.7C1645.9,1368.6 1665.2,1375.4 1671.0,1379.3C1676.8,1383.2 1688.5,1393.4 1691.9,1398.0C1695.3,1402.6 1696.4,1413.1 1700.2,1418.9C1704.0,1424.7 1720.0,1443.1 1724.6,1447.9C1729.2,1452.7 1737.9,1440.5 1739.7,1460.0C1741.5,1479.5 1740.0,1595.5 1739.7,1615.0C1739.4,1634.5 1745.5,1624.5 1737.5,1627.2C1729.5,1629.9 1689.8,1637.5 1671.2,1637.8C1652.7,1638.1 1595.5,1630.4 1578.5,1629.8C1561.5,1629.2 1532.9,1632.8 1525.5,1632.5C1518.1,1632.2 1522.3,1628.1 1514.9,1627.2C1507.5,1626.3 1470.3,1625.7 1461.9,1624.5C1453.5,1623.3 1445.6,1619.5 1443.3,1616.6C1441.0,1613.7 1442.0,1624.1 1441.8,1600.0C1441.6,1575.9 1440.6,1434.8 1441.8,1410.0C1443.0,1385.2 1448.9,1391.9 1452.1,1387.6C1455.2,1383.3 1465.1,1373.2 1468.8,1373.0C1472.5,1372.8 1478.8,1385.5 1483.4,1385.5C1488.0,1385.5 1503.5,1376.4 1508.4,1373.0C1513.3,1369.6 1522.2,1360.7 1525.1,1356.3C1528.0,1351.9 1531.2,1341.1 1533.4,1335.5C1535.6,1329.9 1541.4,1314.5 1543.8,1308.4C1546.2,1302.3 1550.4,1289.5 1554.3,1283.4C1558.2,1277.3 1570.9,1257.1 1577.2,1255.9Z" stroke="#1c1c1c" stroke-opacity="0.45" stroke-width="1.6" transform="translate(0.9 0.9)"/><path d="M1577.2,1255.9C1583.5,1254.7 1603.6,1268.1 1608.5,1273.0C1613.4,1277.9 1616.5,1292.9 1618.9,1298.0C1621.3,1303.1 1627.4,1311.1 1629.3,1316.7C1631.2,1322.3 1634.1,1340.3 1635.6,1345.9C1637.1,1351.5 1637.7,1360.8 1641.8,1364.7C1645.9,1368.6 1665.2,1375.4 1671.0,1379.3C1676.8,1383.2 1688.5,1393.4 1691.9,1398.0C1695.3,1402.6 1696.4,1413.1 1700.2,1418.9C1704.0,1424.7 1720.0,1443.1 1724.6,1447.9C1729.2,1452.7 1737.9,1440.5 1739.7,1460.0C1741.5,1479.5 1740.0,1595.5 1739.7,1615.0C1739.4,1634.5 1745.5,1624.5 1737.5,1627.2C1729.5,1629.9 1689.8,1637.5 1671.2,1637.8C1652.7,1638.1 1595.5,1630.4 1578.5,1629.8C1561.5,1629.2 1532.9,1632.8 1525.5,1632.5C1518.1,1632.2 1522.3,1628.1 1514.9,1627.2C1507.5,1626.3 1470.3,1625.7 1461.9,1624.5C1453.5,1623.3 1445.6,1619.5 1443.3,1616.6C1441.0,1613.7 1442.0,1624.1 1441.8,1600.0C1441.6,1575.9 1440.6,1434.8 1441.8,1410.0C1443.0,1385.2 1448.9,1391.9 1452.1,1387.6C1455.2,1383.3 1465.1,1373.2 1468.8,1373.0C1472.5,1372.8 1478.8,1385.5 1483.4,1385.5C1488.0,1385.5 1503.5,1376.4 1508.4,1373.0C1513.3,1369.6 1522.2,1360.7 1525.1,1356.3C1528.0,1351.9 1531.2,1341.1 1533.4,1335.5C1535.6,1329.9 1541.4,1314.5 1543.8,1308.4C1546.2,1302.3 1550.4,1289.5 1554.3,1283.4C1558.2,1277.3 1570.9,1257.1 1577.2,1255.9Z" stroke="#fff" stroke-opacity="0.5" stroke-width="1.4"/></g>
<text x="1107.00" y="1202.00" font-size="31" text-anchor="middle" font-weight="bold" fill="#000">Pristine</text>
<text x="1577.00" y="1202.00" font-size="31" text-anchor="middle" font-weight="bold" fill="#000">Aged</text>
<text x="1361.50" y="1684.00" font-size="35.7" text-anchor="middle" font-weight="normal" fill="#000">20 μm</text>
<rect x="1310" y="1692" width="108" height="7.9" fill="#000"/>
<text x="891.00" y="1164.80" font-size="31.2" text-anchor="start" font-weight="bold" fill="#000">e</text>
</svg>
</body></html>
